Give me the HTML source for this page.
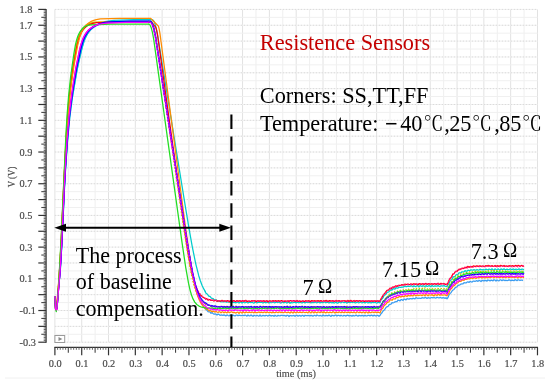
<!DOCTYPE html>
<html><head><meta charset="utf-8"><title>Resistence Sensors</title>
<style>
html,body{margin:0;padding:0;background:#fff;width:550px;height:385px;overflow:hidden}
svg{display:block}
.tl{font-family:"Liberation Serif",serif;font-size:10.3px;fill:#4a4a4a;stroke:#4a4a4a;stroke-width:0.2px}
.al{font-family:"Liberation Serif",serif;font-size:10.3px;fill:#4a4a4a;stroke:#4a4a4a;stroke-width:0.15px}
.big text{font-family:"Liberation Serif","Noto Serif CJK SC",serif;font-size:22.3px}
.cjk{font-family:"Noto Serif CJK SC",serif;font-size:20px}
.mn{font-weight:bold}
.big .om{font-size:20.6px;fill:#000}
</style></head>
<body>
<svg width="550" height="385" viewBox="0 0 550 385">
<rect width="550" height="385" fill="#fff"/>
<line x1="5" y1="378" x2="545" y2="378" stroke="#f0f0f0" stroke-width="1"/>
<g><line x1="54.90" y1="9.40" x2="54.90" y2="342.21" stroke="#e2e2e2" stroke-width="1"/><line x1="68.31" y1="9.40" x2="68.31" y2="342.21" stroke="#efefef" stroke-width="1"/><line x1="81.71" y1="9.40" x2="81.71" y2="342.21" stroke="#e2e2e2" stroke-width="1"/><line x1="95.12" y1="9.40" x2="95.12" y2="342.21" stroke="#efefef" stroke-width="1"/><line x1="108.52" y1="9.40" x2="108.52" y2="342.21" stroke="#e2e2e2" stroke-width="1"/><line x1="121.93" y1="9.40" x2="121.93" y2="342.21" stroke="#efefef" stroke-width="1"/><line x1="135.33" y1="9.40" x2="135.33" y2="342.21" stroke="#e2e2e2" stroke-width="1"/><line x1="148.74" y1="9.40" x2="148.74" y2="342.21" stroke="#efefef" stroke-width="1"/><line x1="162.14" y1="9.40" x2="162.14" y2="342.21" stroke="#e2e2e2" stroke-width="1"/><line x1="175.55" y1="9.40" x2="175.55" y2="342.21" stroke="#efefef" stroke-width="1"/><line x1="188.95" y1="9.40" x2="188.95" y2="342.21" stroke="#e2e2e2" stroke-width="1"/><line x1="202.36" y1="9.40" x2="202.36" y2="342.21" stroke="#efefef" stroke-width="1"/><line x1="215.76" y1="9.40" x2="215.76" y2="342.21" stroke="#e2e2e2" stroke-width="1"/><line x1="229.17" y1="9.40" x2="229.17" y2="342.21" stroke="#efefef" stroke-width="1"/><line x1="242.57" y1="9.40" x2="242.57" y2="342.21" stroke="#e2e2e2" stroke-width="1"/><line x1="255.98" y1="9.40" x2="255.98" y2="342.21" stroke="#efefef" stroke-width="1"/><line x1="269.38" y1="9.40" x2="269.38" y2="342.21" stroke="#e2e2e2" stroke-width="1"/><line x1="282.79" y1="9.40" x2="282.79" y2="342.21" stroke="#efefef" stroke-width="1"/><line x1="296.19" y1="9.40" x2="296.19" y2="342.21" stroke="#e2e2e2" stroke-width="1"/><line x1="309.60" y1="9.40" x2="309.60" y2="342.21" stroke="#efefef" stroke-width="1"/><line x1="323.00" y1="9.40" x2="323.00" y2="342.21" stroke="#e2e2e2" stroke-width="1"/><line x1="336.41" y1="9.40" x2="336.41" y2="342.21" stroke="#efefef" stroke-width="1"/><line x1="349.81" y1="9.40" x2="349.81" y2="342.21" stroke="#e2e2e2" stroke-width="1"/><line x1="363.22" y1="9.40" x2="363.22" y2="342.21" stroke="#efefef" stroke-width="1"/><line x1="376.62" y1="9.40" x2="376.62" y2="342.21" stroke="#e2e2e2" stroke-width="1"/><line x1="390.02" y1="9.40" x2="390.02" y2="342.21" stroke="#efefef" stroke-width="1"/><line x1="403.43" y1="9.40" x2="403.43" y2="342.21" stroke="#e2e2e2" stroke-width="1"/><line x1="416.84" y1="9.40" x2="416.84" y2="342.21" stroke="#efefef" stroke-width="1"/><line x1="430.24" y1="9.40" x2="430.24" y2="342.21" stroke="#e2e2e2" stroke-width="1"/><line x1="443.65" y1="9.40" x2="443.65" y2="342.21" stroke="#efefef" stroke-width="1"/><line x1="457.05" y1="9.40" x2="457.05" y2="342.21" stroke="#e2e2e2" stroke-width="1"/><line x1="470.46" y1="9.40" x2="470.46" y2="342.21" stroke="#efefef" stroke-width="1"/><line x1="483.86" y1="9.40" x2="483.86" y2="342.21" stroke="#e2e2e2" stroke-width="1"/><line x1="497.27" y1="9.40" x2="497.27" y2="342.21" stroke="#efefef" stroke-width="1"/><line x1="510.67" y1="9.40" x2="510.67" y2="342.21" stroke="#e2e2e2" stroke-width="1"/><line x1="524.08" y1="9.40" x2="524.08" y2="342.21" stroke="#efefef" stroke-width="1"/><line x1="537.48" y1="9.40" x2="537.48" y2="342.21" stroke="#e2e2e2" stroke-width="1"/><line x1="54.90" y1="9.40" x2="537.48" y2="9.40" stroke="#f0f0f0" stroke-width="1"/><line x1="54.90" y1="9.40" x2="537.48" y2="9.40" stroke="#d8d8d8" stroke-width="1" stroke-dasharray="1 2"/><line x1="54.90" y1="17.32" x2="537.48" y2="17.32" stroke="#f0f0f0" stroke-width="1"/><line x1="54.90" y1="25.25" x2="537.48" y2="25.25" stroke="#f0f0f0" stroke-width="1"/><line x1="54.90" y1="25.25" x2="537.48" y2="25.25" stroke="#d8d8d8" stroke-width="1" stroke-dasharray="1 2"/><line x1="54.90" y1="33.17" x2="537.48" y2="33.17" stroke="#f0f0f0" stroke-width="1"/><line x1="54.90" y1="41.10" x2="537.48" y2="41.10" stroke="#f0f0f0" stroke-width="1"/><line x1="54.90" y1="41.10" x2="537.48" y2="41.10" stroke="#d8d8d8" stroke-width="1" stroke-dasharray="1 2"/><line x1="54.90" y1="49.02" x2="537.48" y2="49.02" stroke="#f0f0f0" stroke-width="1"/><line x1="54.90" y1="56.94" x2="537.48" y2="56.94" stroke="#f0f0f0" stroke-width="1"/><line x1="54.90" y1="56.94" x2="537.48" y2="56.94" stroke="#d8d8d8" stroke-width="1" stroke-dasharray="1 2"/><line x1="54.90" y1="64.87" x2="537.48" y2="64.87" stroke="#f0f0f0" stroke-width="1"/><line x1="54.90" y1="72.79" x2="537.48" y2="72.79" stroke="#f0f0f0" stroke-width="1"/><line x1="54.90" y1="72.79" x2="537.48" y2="72.79" stroke="#d8d8d8" stroke-width="1" stroke-dasharray="1 2"/><line x1="54.90" y1="80.72" x2="537.48" y2="80.72" stroke="#f0f0f0" stroke-width="1"/><line x1="54.90" y1="88.64" x2="537.48" y2="88.64" stroke="#f0f0f0" stroke-width="1"/><line x1="54.90" y1="88.64" x2="537.48" y2="88.64" stroke="#d8d8d8" stroke-width="1" stroke-dasharray="1 2"/><line x1="54.90" y1="96.56" x2="537.48" y2="96.56" stroke="#f0f0f0" stroke-width="1"/><line x1="54.90" y1="104.49" x2="537.48" y2="104.49" stroke="#f0f0f0" stroke-width="1"/><line x1="54.90" y1="104.49" x2="537.48" y2="104.49" stroke="#d8d8d8" stroke-width="1" stroke-dasharray="1 2"/><line x1="54.90" y1="112.41" x2="537.48" y2="112.41" stroke="#f0f0f0" stroke-width="1"/><line x1="54.90" y1="120.34" x2="537.48" y2="120.34" stroke="#f0f0f0" stroke-width="1"/><line x1="54.90" y1="120.34" x2="537.48" y2="120.34" stroke="#d8d8d8" stroke-width="1" stroke-dasharray="1 2"/><line x1="54.90" y1="128.26" x2="537.48" y2="128.26" stroke="#f0f0f0" stroke-width="1"/><line x1="54.90" y1="136.18" x2="537.48" y2="136.18" stroke="#f0f0f0" stroke-width="1"/><line x1="54.90" y1="136.18" x2="537.48" y2="136.18" stroke="#d8d8d8" stroke-width="1" stroke-dasharray="1 2"/><line x1="54.90" y1="144.11" x2="537.48" y2="144.11" stroke="#f0f0f0" stroke-width="1"/><line x1="54.90" y1="152.03" x2="537.48" y2="152.03" stroke="#f0f0f0" stroke-width="1"/><line x1="54.90" y1="152.03" x2="537.48" y2="152.03" stroke="#d8d8d8" stroke-width="1" stroke-dasharray="1 2"/><line x1="54.90" y1="159.96" x2="537.48" y2="159.96" stroke="#f0f0f0" stroke-width="1"/><line x1="54.90" y1="167.88" x2="537.48" y2="167.88" stroke="#f0f0f0" stroke-width="1"/><line x1="54.90" y1="167.88" x2="537.48" y2="167.88" stroke="#d8d8d8" stroke-width="1" stroke-dasharray="1 2"/><line x1="54.90" y1="175.80" x2="537.48" y2="175.80" stroke="#f0f0f0" stroke-width="1"/><line x1="54.90" y1="183.73" x2="537.48" y2="183.73" stroke="#f0f0f0" stroke-width="1"/><line x1="54.90" y1="183.73" x2="537.48" y2="183.73" stroke="#d8d8d8" stroke-width="1" stroke-dasharray="1 2"/><line x1="54.90" y1="191.65" x2="537.48" y2="191.65" stroke="#f0f0f0" stroke-width="1"/><line x1="54.90" y1="199.58" x2="537.48" y2="199.58" stroke="#f0f0f0" stroke-width="1"/><line x1="54.90" y1="199.58" x2="537.48" y2="199.58" stroke="#d8d8d8" stroke-width="1" stroke-dasharray="1 2"/><line x1="54.90" y1="207.50" x2="537.48" y2="207.50" stroke="#f0f0f0" stroke-width="1"/><line x1="54.90" y1="215.42" x2="537.48" y2="215.42" stroke="#f0f0f0" stroke-width="1"/><line x1="54.90" y1="215.42" x2="537.48" y2="215.42" stroke="#d8d8d8" stroke-width="1" stroke-dasharray="1 2"/><line x1="54.90" y1="223.35" x2="537.48" y2="223.35" stroke="#f0f0f0" stroke-width="1"/><line x1="54.90" y1="231.27" x2="537.48" y2="231.27" stroke="#f0f0f0" stroke-width="1"/><line x1="54.90" y1="231.27" x2="537.48" y2="231.27" stroke="#d8d8d8" stroke-width="1" stroke-dasharray="1 2"/><line x1="54.90" y1="239.20" x2="537.48" y2="239.20" stroke="#f0f0f0" stroke-width="1"/><line x1="54.90" y1="247.12" x2="537.48" y2="247.12" stroke="#f0f0f0" stroke-width="1"/><line x1="54.90" y1="247.12" x2="537.48" y2="247.12" stroke="#d8d8d8" stroke-width="1" stroke-dasharray="1 2"/><line x1="54.90" y1="255.04" x2="537.48" y2="255.04" stroke="#f0f0f0" stroke-width="1"/><line x1="54.90" y1="262.97" x2="537.48" y2="262.97" stroke="#f0f0f0" stroke-width="1"/><line x1="54.90" y1="262.97" x2="537.48" y2="262.97" stroke="#d8d8d8" stroke-width="1" stroke-dasharray="1 2"/><line x1="54.90" y1="270.89" x2="537.48" y2="270.89" stroke="#f0f0f0" stroke-width="1"/><line x1="54.90" y1="278.82" x2="537.48" y2="278.82" stroke="#f0f0f0" stroke-width="1"/><line x1="54.90" y1="278.82" x2="537.48" y2="278.82" stroke="#d8d8d8" stroke-width="1" stroke-dasharray="1 2"/><line x1="54.90" y1="286.74" x2="537.48" y2="286.74" stroke="#f0f0f0" stroke-width="1"/><line x1="54.90" y1="294.66" x2="537.48" y2="294.66" stroke="#f0f0f0" stroke-width="1"/><line x1="54.90" y1="294.66" x2="537.48" y2="294.66" stroke="#d8d8d8" stroke-width="1" stroke-dasharray="1 2"/><line x1="54.90" y1="302.59" x2="537.48" y2="302.59" stroke="#f0f0f0" stroke-width="1"/><line x1="54.90" y1="310.51" x2="537.48" y2="310.51" stroke="#f0f0f0" stroke-width="1"/><line x1="54.90" y1="310.51" x2="537.48" y2="310.51" stroke="#d8d8d8" stroke-width="1" stroke-dasharray="1 2"/><line x1="54.90" y1="318.44" x2="537.48" y2="318.44" stroke="#f0f0f0" stroke-width="1"/><line x1="54.90" y1="326.36" x2="537.48" y2="326.36" stroke="#f0f0f0" stroke-width="1"/><line x1="54.90" y1="326.36" x2="537.48" y2="326.36" stroke="#d8d8d8" stroke-width="1" stroke-dasharray="1 2"/><line x1="54.90" y1="334.28" x2="537.48" y2="334.28" stroke="#f0f0f0" stroke-width="1"/><line x1="54.90" y1="342.21" x2="537.48" y2="342.21" stroke="#f0f0f0" stroke-width="1"/><line x1="54.90" y1="342.21" x2="537.48" y2="342.21" stroke="#d8d8d8" stroke-width="1" stroke-dasharray="1 2"/></g>
<g><line x1="46.1" y1="8.90" x2="46.1" y2="342.71" stroke="#333" stroke-width="1.2"/><line x1="38.30" y1="9.40" x2="46.1" y2="9.40" stroke="#333" stroke-width="1.2"/><line x1="43.70" y1="10.98" x2="46.1" y2="10.98" stroke="#555" stroke-width="0.9"/><line x1="43.70" y1="12.57" x2="46.1" y2="12.57" stroke="#555" stroke-width="0.9"/><line x1="43.70" y1="14.15" x2="46.1" y2="14.15" stroke="#555" stroke-width="0.9"/><line x1="43.70" y1="15.74" x2="46.1" y2="15.74" stroke="#555" stroke-width="0.9"/><line x1="41.30" y1="17.32" x2="46.1" y2="17.32" stroke="#444" stroke-width="1.1"/><line x1="43.70" y1="18.91" x2="46.1" y2="18.91" stroke="#555" stroke-width="0.9"/><line x1="43.70" y1="20.49" x2="46.1" y2="20.49" stroke="#555" stroke-width="0.9"/><line x1="43.70" y1="22.08" x2="46.1" y2="22.08" stroke="#555" stroke-width="0.9"/><line x1="43.70" y1="23.66" x2="46.1" y2="23.66" stroke="#555" stroke-width="0.9"/><line x1="38.30" y1="25.25" x2="46.1" y2="25.25" stroke="#333" stroke-width="1.2"/><line x1="43.70" y1="26.83" x2="46.1" y2="26.83" stroke="#555" stroke-width="0.9"/><line x1="43.70" y1="28.42" x2="46.1" y2="28.42" stroke="#555" stroke-width="0.9"/><line x1="43.70" y1="30.00" x2="46.1" y2="30.00" stroke="#555" stroke-width="0.9"/><line x1="43.70" y1="31.59" x2="46.1" y2="31.59" stroke="#555" stroke-width="0.9"/><line x1="41.30" y1="33.17" x2="46.1" y2="33.17" stroke="#444" stroke-width="1.1"/><line x1="43.70" y1="34.76" x2="46.1" y2="34.76" stroke="#555" stroke-width="0.9"/><line x1="43.70" y1="36.34" x2="46.1" y2="36.34" stroke="#555" stroke-width="0.9"/><line x1="43.70" y1="37.93" x2="46.1" y2="37.93" stroke="#555" stroke-width="0.9"/><line x1="43.70" y1="39.51" x2="46.1" y2="39.51" stroke="#555" stroke-width="0.9"/><line x1="38.30" y1="41.10" x2="46.1" y2="41.10" stroke="#333" stroke-width="1.2"/><line x1="43.70" y1="42.68" x2="46.1" y2="42.68" stroke="#555" stroke-width="0.9"/><line x1="43.70" y1="44.27" x2="46.1" y2="44.27" stroke="#555" stroke-width="0.9"/><line x1="43.70" y1="45.85" x2="46.1" y2="45.85" stroke="#555" stroke-width="0.9"/><line x1="43.70" y1="47.44" x2="46.1" y2="47.44" stroke="#555" stroke-width="0.9"/><line x1="41.30" y1="49.02" x2="46.1" y2="49.02" stroke="#444" stroke-width="1.1"/><line x1="43.70" y1="50.60" x2="46.1" y2="50.60" stroke="#555" stroke-width="0.9"/><line x1="43.70" y1="52.19" x2="46.1" y2="52.19" stroke="#555" stroke-width="0.9"/><line x1="43.70" y1="53.77" x2="46.1" y2="53.77" stroke="#555" stroke-width="0.9"/><line x1="43.70" y1="55.36" x2="46.1" y2="55.36" stroke="#555" stroke-width="0.9"/><line x1="38.30" y1="56.94" x2="46.1" y2="56.94" stroke="#333" stroke-width="1.2"/><line x1="43.70" y1="58.53" x2="46.1" y2="58.53" stroke="#555" stroke-width="0.9"/><line x1="43.70" y1="60.11" x2="46.1" y2="60.11" stroke="#555" stroke-width="0.9"/><line x1="43.70" y1="61.70" x2="46.1" y2="61.70" stroke="#555" stroke-width="0.9"/><line x1="43.70" y1="63.28" x2="46.1" y2="63.28" stroke="#555" stroke-width="0.9"/><line x1="41.30" y1="64.87" x2="46.1" y2="64.87" stroke="#444" stroke-width="1.1"/><line x1="43.70" y1="66.45" x2="46.1" y2="66.45" stroke="#555" stroke-width="0.9"/><line x1="43.70" y1="68.04" x2="46.1" y2="68.04" stroke="#555" stroke-width="0.9"/><line x1="43.70" y1="69.62" x2="46.1" y2="69.62" stroke="#555" stroke-width="0.9"/><line x1="43.70" y1="71.21" x2="46.1" y2="71.21" stroke="#555" stroke-width="0.9"/><line x1="38.30" y1="72.79" x2="46.1" y2="72.79" stroke="#333" stroke-width="1.2"/><line x1="43.70" y1="74.38" x2="46.1" y2="74.38" stroke="#555" stroke-width="0.9"/><line x1="43.70" y1="75.96" x2="46.1" y2="75.96" stroke="#555" stroke-width="0.9"/><line x1="43.70" y1="77.55" x2="46.1" y2="77.55" stroke="#555" stroke-width="0.9"/><line x1="43.70" y1="79.13" x2="46.1" y2="79.13" stroke="#555" stroke-width="0.9"/><line x1="41.30" y1="80.72" x2="46.1" y2="80.72" stroke="#444" stroke-width="1.1"/><line x1="43.70" y1="82.30" x2="46.1" y2="82.30" stroke="#555" stroke-width="0.9"/><line x1="43.70" y1="83.89" x2="46.1" y2="83.89" stroke="#555" stroke-width="0.9"/><line x1="43.70" y1="85.47" x2="46.1" y2="85.47" stroke="#555" stroke-width="0.9"/><line x1="43.70" y1="87.06" x2="46.1" y2="87.06" stroke="#555" stroke-width="0.9"/><line x1="38.30" y1="88.64" x2="46.1" y2="88.64" stroke="#333" stroke-width="1.2"/><line x1="43.70" y1="90.22" x2="46.1" y2="90.22" stroke="#555" stroke-width="0.9"/><line x1="43.70" y1="91.81" x2="46.1" y2="91.81" stroke="#555" stroke-width="0.9"/><line x1="43.70" y1="93.39" x2="46.1" y2="93.39" stroke="#555" stroke-width="0.9"/><line x1="43.70" y1="94.98" x2="46.1" y2="94.98" stroke="#555" stroke-width="0.9"/><line x1="41.30" y1="96.56" x2="46.1" y2="96.56" stroke="#444" stroke-width="1.1"/><line x1="43.70" y1="98.15" x2="46.1" y2="98.15" stroke="#555" stroke-width="0.9"/><line x1="43.70" y1="99.73" x2="46.1" y2="99.73" stroke="#555" stroke-width="0.9"/><line x1="43.70" y1="101.32" x2="46.1" y2="101.32" stroke="#555" stroke-width="0.9"/><line x1="43.70" y1="102.90" x2="46.1" y2="102.90" stroke="#555" stroke-width="0.9"/><line x1="38.30" y1="104.49" x2="46.1" y2="104.49" stroke="#333" stroke-width="1.2"/><line x1="43.70" y1="106.07" x2="46.1" y2="106.07" stroke="#555" stroke-width="0.9"/><line x1="43.70" y1="107.66" x2="46.1" y2="107.66" stroke="#555" stroke-width="0.9"/><line x1="43.70" y1="109.24" x2="46.1" y2="109.24" stroke="#555" stroke-width="0.9"/><line x1="43.70" y1="110.83" x2="46.1" y2="110.83" stroke="#555" stroke-width="0.9"/><line x1="41.30" y1="112.41" x2="46.1" y2="112.41" stroke="#444" stroke-width="1.1"/><line x1="43.70" y1="114.00" x2="46.1" y2="114.00" stroke="#555" stroke-width="0.9"/><line x1="43.70" y1="115.58" x2="46.1" y2="115.58" stroke="#555" stroke-width="0.9"/><line x1="43.70" y1="117.17" x2="46.1" y2="117.17" stroke="#555" stroke-width="0.9"/><line x1="43.70" y1="118.75" x2="46.1" y2="118.75" stroke="#555" stroke-width="0.9"/><line x1="38.30" y1="120.34" x2="46.1" y2="120.34" stroke="#333" stroke-width="1.2"/><line x1="43.70" y1="121.92" x2="46.1" y2="121.92" stroke="#555" stroke-width="0.9"/><line x1="43.70" y1="123.51" x2="46.1" y2="123.51" stroke="#555" stroke-width="0.9"/><line x1="43.70" y1="125.09" x2="46.1" y2="125.09" stroke="#555" stroke-width="0.9"/><line x1="43.70" y1="126.68" x2="46.1" y2="126.68" stroke="#555" stroke-width="0.9"/><line x1="41.30" y1="128.26" x2="46.1" y2="128.26" stroke="#444" stroke-width="1.1"/><line x1="43.70" y1="129.84" x2="46.1" y2="129.84" stroke="#555" stroke-width="0.9"/><line x1="43.70" y1="131.43" x2="46.1" y2="131.43" stroke="#555" stroke-width="0.9"/><line x1="43.70" y1="133.01" x2="46.1" y2="133.01" stroke="#555" stroke-width="0.9"/><line x1="43.70" y1="134.60" x2="46.1" y2="134.60" stroke="#555" stroke-width="0.9"/><line x1="38.30" y1="136.18" x2="46.1" y2="136.18" stroke="#333" stroke-width="1.2"/><line x1="43.70" y1="137.77" x2="46.1" y2="137.77" stroke="#555" stroke-width="0.9"/><line x1="43.70" y1="139.35" x2="46.1" y2="139.35" stroke="#555" stroke-width="0.9"/><line x1="43.70" y1="140.94" x2="46.1" y2="140.94" stroke="#555" stroke-width="0.9"/><line x1="43.70" y1="142.52" x2="46.1" y2="142.52" stroke="#555" stroke-width="0.9"/><line x1="41.30" y1="144.11" x2="46.1" y2="144.11" stroke="#444" stroke-width="1.1"/><line x1="43.70" y1="145.69" x2="46.1" y2="145.69" stroke="#555" stroke-width="0.9"/><line x1="43.70" y1="147.28" x2="46.1" y2="147.28" stroke="#555" stroke-width="0.9"/><line x1="43.70" y1="148.86" x2="46.1" y2="148.86" stroke="#555" stroke-width="0.9"/><line x1="43.70" y1="150.45" x2="46.1" y2="150.45" stroke="#555" stroke-width="0.9"/><line x1="38.30" y1="152.03" x2="46.1" y2="152.03" stroke="#333" stroke-width="1.2"/><line x1="43.70" y1="153.62" x2="46.1" y2="153.62" stroke="#555" stroke-width="0.9"/><line x1="43.70" y1="155.20" x2="46.1" y2="155.20" stroke="#555" stroke-width="0.9"/><line x1="43.70" y1="156.79" x2="46.1" y2="156.79" stroke="#555" stroke-width="0.9"/><line x1="43.70" y1="158.37" x2="46.1" y2="158.37" stroke="#555" stroke-width="0.9"/><line x1="41.30" y1="159.96" x2="46.1" y2="159.96" stroke="#444" stroke-width="1.1"/><line x1="43.70" y1="161.54" x2="46.1" y2="161.54" stroke="#555" stroke-width="0.9"/><line x1="43.70" y1="163.13" x2="46.1" y2="163.13" stroke="#555" stroke-width="0.9"/><line x1="43.70" y1="164.71" x2="46.1" y2="164.71" stroke="#555" stroke-width="0.9"/><line x1="43.70" y1="166.30" x2="46.1" y2="166.30" stroke="#555" stroke-width="0.9"/><line x1="38.30" y1="167.88" x2="46.1" y2="167.88" stroke="#333" stroke-width="1.2"/><line x1="43.70" y1="169.46" x2="46.1" y2="169.46" stroke="#555" stroke-width="0.9"/><line x1="43.70" y1="171.05" x2="46.1" y2="171.05" stroke="#555" stroke-width="0.9"/><line x1="43.70" y1="172.63" x2="46.1" y2="172.63" stroke="#555" stroke-width="0.9"/><line x1="43.70" y1="174.22" x2="46.1" y2="174.22" stroke="#555" stroke-width="0.9"/><line x1="41.30" y1="175.80" x2="46.1" y2="175.80" stroke="#444" stroke-width="1.1"/><line x1="43.70" y1="177.39" x2="46.1" y2="177.39" stroke="#555" stroke-width="0.9"/><line x1="43.70" y1="178.97" x2="46.1" y2="178.97" stroke="#555" stroke-width="0.9"/><line x1="43.70" y1="180.56" x2="46.1" y2="180.56" stroke="#555" stroke-width="0.9"/><line x1="43.70" y1="182.14" x2="46.1" y2="182.14" stroke="#555" stroke-width="0.9"/><line x1="38.30" y1="183.73" x2="46.1" y2="183.73" stroke="#333" stroke-width="1.2"/><line x1="43.70" y1="185.31" x2="46.1" y2="185.31" stroke="#555" stroke-width="0.9"/><line x1="43.70" y1="186.90" x2="46.1" y2="186.90" stroke="#555" stroke-width="0.9"/><line x1="43.70" y1="188.48" x2="46.1" y2="188.48" stroke="#555" stroke-width="0.9"/><line x1="43.70" y1="190.07" x2="46.1" y2="190.07" stroke="#555" stroke-width="0.9"/><line x1="41.30" y1="191.65" x2="46.1" y2="191.65" stroke="#444" stroke-width="1.1"/><line x1="43.70" y1="193.24" x2="46.1" y2="193.24" stroke="#555" stroke-width="0.9"/><line x1="43.70" y1="194.82" x2="46.1" y2="194.82" stroke="#555" stroke-width="0.9"/><line x1="43.70" y1="196.41" x2="46.1" y2="196.41" stroke="#555" stroke-width="0.9"/><line x1="43.70" y1="197.99" x2="46.1" y2="197.99" stroke="#555" stroke-width="0.9"/><line x1="38.30" y1="199.58" x2="46.1" y2="199.58" stroke="#333" stroke-width="1.2"/><line x1="43.70" y1="201.16" x2="46.1" y2="201.16" stroke="#555" stroke-width="0.9"/><line x1="43.70" y1="202.75" x2="46.1" y2="202.75" stroke="#555" stroke-width="0.9"/><line x1="43.70" y1="204.33" x2="46.1" y2="204.33" stroke="#555" stroke-width="0.9"/><line x1="43.70" y1="205.92" x2="46.1" y2="205.92" stroke="#555" stroke-width="0.9"/><line x1="41.30" y1="207.50" x2="46.1" y2="207.50" stroke="#444" stroke-width="1.1"/><line x1="43.70" y1="209.08" x2="46.1" y2="209.08" stroke="#555" stroke-width="0.9"/><line x1="43.70" y1="210.67" x2="46.1" y2="210.67" stroke="#555" stroke-width="0.9"/><line x1="43.70" y1="212.25" x2="46.1" y2="212.25" stroke="#555" stroke-width="0.9"/><line x1="43.70" y1="213.84" x2="46.1" y2="213.84" stroke="#555" stroke-width="0.9"/><line x1="38.30" y1="215.42" x2="46.1" y2="215.42" stroke="#333" stroke-width="1.2"/><line x1="43.70" y1="217.01" x2="46.1" y2="217.01" stroke="#555" stroke-width="0.9"/><line x1="43.70" y1="218.59" x2="46.1" y2="218.59" stroke="#555" stroke-width="0.9"/><line x1="43.70" y1="220.18" x2="46.1" y2="220.18" stroke="#555" stroke-width="0.9"/><line x1="43.70" y1="221.76" x2="46.1" y2="221.76" stroke="#555" stroke-width="0.9"/><line x1="41.30" y1="223.35" x2="46.1" y2="223.35" stroke="#444" stroke-width="1.1"/><line x1="43.70" y1="224.93" x2="46.1" y2="224.93" stroke="#555" stroke-width="0.9"/><line x1="43.70" y1="226.52" x2="46.1" y2="226.52" stroke="#555" stroke-width="0.9"/><line x1="43.70" y1="228.10" x2="46.1" y2="228.10" stroke="#555" stroke-width="0.9"/><line x1="43.70" y1="229.69" x2="46.1" y2="229.69" stroke="#555" stroke-width="0.9"/><line x1="38.30" y1="231.27" x2="46.1" y2="231.27" stroke="#333" stroke-width="1.2"/><line x1="43.70" y1="232.86" x2="46.1" y2="232.86" stroke="#555" stroke-width="0.9"/><line x1="43.70" y1="234.44" x2="46.1" y2="234.44" stroke="#555" stroke-width="0.9"/><line x1="43.70" y1="236.03" x2="46.1" y2="236.03" stroke="#555" stroke-width="0.9"/><line x1="43.70" y1="237.61" x2="46.1" y2="237.61" stroke="#555" stroke-width="0.9"/><line x1="41.30" y1="239.20" x2="46.1" y2="239.20" stroke="#444" stroke-width="1.1"/><line x1="43.70" y1="240.78" x2="46.1" y2="240.78" stroke="#555" stroke-width="0.9"/><line x1="43.70" y1="242.37" x2="46.1" y2="242.37" stroke="#555" stroke-width="0.9"/><line x1="43.70" y1="243.95" x2="46.1" y2="243.95" stroke="#555" stroke-width="0.9"/><line x1="43.70" y1="245.54" x2="46.1" y2="245.54" stroke="#555" stroke-width="0.9"/><line x1="38.30" y1="247.12" x2="46.1" y2="247.12" stroke="#333" stroke-width="1.2"/><line x1="43.70" y1="248.70" x2="46.1" y2="248.70" stroke="#555" stroke-width="0.9"/><line x1="43.70" y1="250.29" x2="46.1" y2="250.29" stroke="#555" stroke-width="0.9"/><line x1="43.70" y1="251.87" x2="46.1" y2="251.87" stroke="#555" stroke-width="0.9"/><line x1="43.70" y1="253.46" x2="46.1" y2="253.46" stroke="#555" stroke-width="0.9"/><line x1="41.30" y1="255.04" x2="46.1" y2="255.04" stroke="#444" stroke-width="1.1"/><line x1="43.70" y1="256.63" x2="46.1" y2="256.63" stroke="#555" stroke-width="0.9"/><line x1="43.70" y1="258.21" x2="46.1" y2="258.21" stroke="#555" stroke-width="0.9"/><line x1="43.70" y1="259.80" x2="46.1" y2="259.80" stroke="#555" stroke-width="0.9"/><line x1="43.70" y1="261.38" x2="46.1" y2="261.38" stroke="#555" stroke-width="0.9"/><line x1="38.30" y1="262.97" x2="46.1" y2="262.97" stroke="#333" stroke-width="1.2"/><line x1="43.70" y1="264.55" x2="46.1" y2="264.55" stroke="#555" stroke-width="0.9"/><line x1="43.70" y1="266.14" x2="46.1" y2="266.14" stroke="#555" stroke-width="0.9"/><line x1="43.70" y1="267.72" x2="46.1" y2="267.72" stroke="#555" stroke-width="0.9"/><line x1="43.70" y1="269.31" x2="46.1" y2="269.31" stroke="#555" stroke-width="0.9"/><line x1="41.30" y1="270.89" x2="46.1" y2="270.89" stroke="#444" stroke-width="1.1"/><line x1="43.70" y1="272.48" x2="46.1" y2="272.48" stroke="#555" stroke-width="0.9"/><line x1="43.70" y1="274.06" x2="46.1" y2="274.06" stroke="#555" stroke-width="0.9"/><line x1="43.70" y1="275.65" x2="46.1" y2="275.65" stroke="#555" stroke-width="0.9"/><line x1="43.70" y1="277.23" x2="46.1" y2="277.23" stroke="#555" stroke-width="0.9"/><line x1="38.30" y1="278.82" x2="46.1" y2="278.82" stroke="#333" stroke-width="1.2"/><line x1="43.70" y1="280.40" x2="46.1" y2="280.40" stroke="#555" stroke-width="0.9"/><line x1="43.70" y1="281.99" x2="46.1" y2="281.99" stroke="#555" stroke-width="0.9"/><line x1="43.70" y1="283.57" x2="46.1" y2="283.57" stroke="#555" stroke-width="0.9"/><line x1="43.70" y1="285.16" x2="46.1" y2="285.16" stroke="#555" stroke-width="0.9"/><line x1="41.30" y1="286.74" x2="46.1" y2="286.74" stroke="#444" stroke-width="1.1"/><line x1="43.70" y1="288.32" x2="46.1" y2="288.32" stroke="#555" stroke-width="0.9"/><line x1="43.70" y1="289.91" x2="46.1" y2="289.91" stroke="#555" stroke-width="0.9"/><line x1="43.70" y1="291.49" x2="46.1" y2="291.49" stroke="#555" stroke-width="0.9"/><line x1="43.70" y1="293.08" x2="46.1" y2="293.08" stroke="#555" stroke-width="0.9"/><line x1="38.30" y1="294.66" x2="46.1" y2="294.66" stroke="#333" stroke-width="1.2"/><line x1="43.70" y1="296.25" x2="46.1" y2="296.25" stroke="#555" stroke-width="0.9"/><line x1="43.70" y1="297.83" x2="46.1" y2="297.83" stroke="#555" stroke-width="0.9"/><line x1="43.70" y1="299.42" x2="46.1" y2="299.42" stroke="#555" stroke-width="0.9"/><line x1="43.70" y1="301.00" x2="46.1" y2="301.00" stroke="#555" stroke-width="0.9"/><line x1="41.30" y1="302.59" x2="46.1" y2="302.59" stroke="#444" stroke-width="1.1"/><line x1="43.70" y1="304.17" x2="46.1" y2="304.17" stroke="#555" stroke-width="0.9"/><line x1="43.70" y1="305.76" x2="46.1" y2="305.76" stroke="#555" stroke-width="0.9"/><line x1="43.70" y1="307.34" x2="46.1" y2="307.34" stroke="#555" stroke-width="0.9"/><line x1="43.70" y1="308.93" x2="46.1" y2="308.93" stroke="#555" stroke-width="0.9"/><line x1="38.30" y1="310.51" x2="46.1" y2="310.51" stroke="#333" stroke-width="1.2"/><line x1="43.70" y1="312.10" x2="46.1" y2="312.10" stroke="#555" stroke-width="0.9"/><line x1="43.70" y1="313.68" x2="46.1" y2="313.68" stroke="#555" stroke-width="0.9"/><line x1="43.70" y1="315.27" x2="46.1" y2="315.27" stroke="#555" stroke-width="0.9"/><line x1="43.70" y1="316.85" x2="46.1" y2="316.85" stroke="#555" stroke-width="0.9"/><line x1="41.30" y1="318.44" x2="46.1" y2="318.44" stroke="#444" stroke-width="1.1"/><line x1="43.70" y1="320.02" x2="46.1" y2="320.02" stroke="#555" stroke-width="0.9"/><line x1="43.70" y1="321.61" x2="46.1" y2="321.61" stroke="#555" stroke-width="0.9"/><line x1="43.70" y1="323.19" x2="46.1" y2="323.19" stroke="#555" stroke-width="0.9"/><line x1="43.70" y1="324.78" x2="46.1" y2="324.78" stroke="#555" stroke-width="0.9"/><line x1="38.30" y1="326.36" x2="46.1" y2="326.36" stroke="#333" stroke-width="1.2"/><line x1="43.70" y1="327.94" x2="46.1" y2="327.94" stroke="#555" stroke-width="0.9"/><line x1="43.70" y1="329.53" x2="46.1" y2="329.53" stroke="#555" stroke-width="0.9"/><line x1="43.70" y1="331.11" x2="46.1" y2="331.11" stroke="#555" stroke-width="0.9"/><line x1="43.70" y1="332.70" x2="46.1" y2="332.70" stroke="#555" stroke-width="0.9"/><line x1="41.30" y1="334.28" x2="46.1" y2="334.28" stroke="#444" stroke-width="1.1"/><line x1="43.70" y1="335.87" x2="46.1" y2="335.87" stroke="#555" stroke-width="0.9"/><line x1="43.70" y1="337.45" x2="46.1" y2="337.45" stroke="#555" stroke-width="0.9"/><line x1="43.70" y1="339.04" x2="46.1" y2="339.04" stroke="#555" stroke-width="0.9"/><line x1="43.70" y1="340.62" x2="46.1" y2="340.62" stroke="#555" stroke-width="0.9"/><line x1="38.30" y1="342.21" x2="46.1" y2="342.21" stroke="#333" stroke-width="1.2"/><line x1="54.40" y1="347.3" x2="537.98" y2="347.3" stroke="#333" stroke-width="1.3"/><line x1="54.90" y1="347.3" x2="54.90" y2="355.30" stroke="#333" stroke-width="1.2"/><line x1="57.58" y1="347.3" x2="57.58" y2="349.80" stroke="#555" stroke-width="0.9"/><line x1="60.26" y1="347.3" x2="60.26" y2="349.80" stroke="#555" stroke-width="0.9"/><line x1="62.94" y1="347.3" x2="62.94" y2="349.80" stroke="#555" stroke-width="0.9"/><line x1="65.62" y1="347.3" x2="65.62" y2="349.80" stroke="#555" stroke-width="0.9"/><line x1="68.31" y1="347.3" x2="68.31" y2="352.70" stroke="#444" stroke-width="1.1"/><line x1="70.99" y1="347.3" x2="70.99" y2="349.80" stroke="#555" stroke-width="0.9"/><line x1="73.67" y1="347.3" x2="73.67" y2="349.80" stroke="#555" stroke-width="0.9"/><line x1="76.35" y1="347.3" x2="76.35" y2="349.80" stroke="#555" stroke-width="0.9"/><line x1="79.03" y1="347.3" x2="79.03" y2="349.80" stroke="#555" stroke-width="0.9"/><line x1="81.71" y1="347.3" x2="81.71" y2="355.30" stroke="#333" stroke-width="1.2"/><line x1="84.39" y1="347.3" x2="84.39" y2="349.80" stroke="#555" stroke-width="0.9"/><line x1="87.07" y1="347.3" x2="87.07" y2="349.80" stroke="#555" stroke-width="0.9"/><line x1="89.75" y1="347.3" x2="89.75" y2="349.80" stroke="#555" stroke-width="0.9"/><line x1="92.43" y1="347.3" x2="92.43" y2="349.80" stroke="#555" stroke-width="0.9"/><line x1="95.12" y1="347.3" x2="95.12" y2="352.70" stroke="#444" stroke-width="1.1"/><line x1="97.80" y1="347.3" x2="97.80" y2="349.80" stroke="#555" stroke-width="0.9"/><line x1="100.48" y1="347.3" x2="100.48" y2="349.80" stroke="#555" stroke-width="0.9"/><line x1="103.16" y1="347.3" x2="103.16" y2="349.80" stroke="#555" stroke-width="0.9"/><line x1="105.84" y1="347.3" x2="105.84" y2="349.80" stroke="#555" stroke-width="0.9"/><line x1="108.52" y1="347.3" x2="108.52" y2="355.30" stroke="#333" stroke-width="1.2"/><line x1="111.20" y1="347.3" x2="111.20" y2="349.80" stroke="#555" stroke-width="0.9"/><line x1="113.88" y1="347.3" x2="113.88" y2="349.80" stroke="#555" stroke-width="0.9"/><line x1="116.56" y1="347.3" x2="116.56" y2="349.80" stroke="#555" stroke-width="0.9"/><line x1="119.24" y1="347.3" x2="119.24" y2="349.80" stroke="#555" stroke-width="0.9"/><line x1="121.93" y1="347.3" x2="121.93" y2="352.70" stroke="#444" stroke-width="1.1"/><line x1="124.61" y1="347.3" x2="124.61" y2="349.80" stroke="#555" stroke-width="0.9"/><line x1="127.29" y1="347.3" x2="127.29" y2="349.80" stroke="#555" stroke-width="0.9"/><line x1="129.97" y1="347.3" x2="129.97" y2="349.80" stroke="#555" stroke-width="0.9"/><line x1="132.65" y1="347.3" x2="132.65" y2="349.80" stroke="#555" stroke-width="0.9"/><line x1="135.33" y1="347.3" x2="135.33" y2="355.30" stroke="#333" stroke-width="1.2"/><line x1="138.01" y1="347.3" x2="138.01" y2="349.80" stroke="#555" stroke-width="0.9"/><line x1="140.69" y1="347.3" x2="140.69" y2="349.80" stroke="#555" stroke-width="0.9"/><line x1="143.37" y1="347.3" x2="143.37" y2="349.80" stroke="#555" stroke-width="0.9"/><line x1="146.05" y1="347.3" x2="146.05" y2="349.80" stroke="#555" stroke-width="0.9"/><line x1="148.74" y1="347.3" x2="148.74" y2="352.70" stroke="#444" stroke-width="1.1"/><line x1="151.42" y1="347.3" x2="151.42" y2="349.80" stroke="#555" stroke-width="0.9"/><line x1="154.10" y1="347.3" x2="154.10" y2="349.80" stroke="#555" stroke-width="0.9"/><line x1="156.78" y1="347.3" x2="156.78" y2="349.80" stroke="#555" stroke-width="0.9"/><line x1="159.46" y1="347.3" x2="159.46" y2="349.80" stroke="#555" stroke-width="0.9"/><line x1="162.14" y1="347.3" x2="162.14" y2="355.30" stroke="#333" stroke-width="1.2"/><line x1="164.82" y1="347.3" x2="164.82" y2="349.80" stroke="#555" stroke-width="0.9"/><line x1="167.50" y1="347.3" x2="167.50" y2="349.80" stroke="#555" stroke-width="0.9"/><line x1="170.18" y1="347.3" x2="170.18" y2="349.80" stroke="#555" stroke-width="0.9"/><line x1="172.86" y1="347.3" x2="172.86" y2="349.80" stroke="#555" stroke-width="0.9"/><line x1="175.55" y1="347.3" x2="175.55" y2="352.70" stroke="#444" stroke-width="1.1"/><line x1="178.23" y1="347.3" x2="178.23" y2="349.80" stroke="#555" stroke-width="0.9"/><line x1="180.91" y1="347.3" x2="180.91" y2="349.80" stroke="#555" stroke-width="0.9"/><line x1="183.59" y1="347.3" x2="183.59" y2="349.80" stroke="#555" stroke-width="0.9"/><line x1="186.27" y1="347.3" x2="186.27" y2="349.80" stroke="#555" stroke-width="0.9"/><line x1="188.95" y1="347.3" x2="188.95" y2="355.30" stroke="#333" stroke-width="1.2"/><line x1="191.63" y1="347.3" x2="191.63" y2="349.80" stroke="#555" stroke-width="0.9"/><line x1="194.31" y1="347.3" x2="194.31" y2="349.80" stroke="#555" stroke-width="0.9"/><line x1="196.99" y1="347.3" x2="196.99" y2="349.80" stroke="#555" stroke-width="0.9"/><line x1="199.67" y1="347.3" x2="199.67" y2="349.80" stroke="#555" stroke-width="0.9"/><line x1="202.36" y1="347.3" x2="202.36" y2="352.70" stroke="#444" stroke-width="1.1"/><line x1="205.04" y1="347.3" x2="205.04" y2="349.80" stroke="#555" stroke-width="0.9"/><line x1="207.72" y1="347.3" x2="207.72" y2="349.80" stroke="#555" stroke-width="0.9"/><line x1="210.40" y1="347.3" x2="210.40" y2="349.80" stroke="#555" stroke-width="0.9"/><line x1="213.08" y1="347.3" x2="213.08" y2="349.80" stroke="#555" stroke-width="0.9"/><line x1="215.76" y1="347.3" x2="215.76" y2="355.30" stroke="#333" stroke-width="1.2"/><line x1="218.44" y1="347.3" x2="218.44" y2="349.80" stroke="#555" stroke-width="0.9"/><line x1="221.12" y1="347.3" x2="221.12" y2="349.80" stroke="#555" stroke-width="0.9"/><line x1="223.80" y1="347.3" x2="223.80" y2="349.80" stroke="#555" stroke-width="0.9"/><line x1="226.48" y1="347.3" x2="226.48" y2="349.80" stroke="#555" stroke-width="0.9"/><line x1="229.17" y1="347.3" x2="229.17" y2="352.70" stroke="#444" stroke-width="1.1"/><line x1="231.85" y1="347.3" x2="231.85" y2="349.80" stroke="#555" stroke-width="0.9"/><line x1="234.53" y1="347.3" x2="234.53" y2="349.80" stroke="#555" stroke-width="0.9"/><line x1="237.21" y1="347.3" x2="237.21" y2="349.80" stroke="#555" stroke-width="0.9"/><line x1="239.89" y1="347.3" x2="239.89" y2="349.80" stroke="#555" stroke-width="0.9"/><line x1="242.57" y1="347.3" x2="242.57" y2="355.30" stroke="#333" stroke-width="1.2"/><line x1="245.25" y1="347.3" x2="245.25" y2="349.80" stroke="#555" stroke-width="0.9"/><line x1="247.93" y1="347.3" x2="247.93" y2="349.80" stroke="#555" stroke-width="0.9"/><line x1="250.61" y1="347.3" x2="250.61" y2="349.80" stroke="#555" stroke-width="0.9"/><line x1="253.29" y1="347.3" x2="253.29" y2="349.80" stroke="#555" stroke-width="0.9"/><line x1="255.98" y1="347.3" x2="255.98" y2="352.70" stroke="#444" stroke-width="1.1"/><line x1="258.66" y1="347.3" x2="258.66" y2="349.80" stroke="#555" stroke-width="0.9"/><line x1="261.34" y1="347.3" x2="261.34" y2="349.80" stroke="#555" stroke-width="0.9"/><line x1="264.02" y1="347.3" x2="264.02" y2="349.80" stroke="#555" stroke-width="0.9"/><line x1="266.70" y1="347.3" x2="266.70" y2="349.80" stroke="#555" stroke-width="0.9"/><line x1="269.38" y1="347.3" x2="269.38" y2="355.30" stroke="#333" stroke-width="1.2"/><line x1="272.06" y1="347.3" x2="272.06" y2="349.80" stroke="#555" stroke-width="0.9"/><line x1="274.74" y1="347.3" x2="274.74" y2="349.80" stroke="#555" stroke-width="0.9"/><line x1="277.42" y1="347.3" x2="277.42" y2="349.80" stroke="#555" stroke-width="0.9"/><line x1="280.10" y1="347.3" x2="280.10" y2="349.80" stroke="#555" stroke-width="0.9"/><line x1="282.79" y1="347.3" x2="282.79" y2="352.70" stroke="#444" stroke-width="1.1"/><line x1="285.47" y1="347.3" x2="285.47" y2="349.80" stroke="#555" stroke-width="0.9"/><line x1="288.15" y1="347.3" x2="288.15" y2="349.80" stroke="#555" stroke-width="0.9"/><line x1="290.83" y1="347.3" x2="290.83" y2="349.80" stroke="#555" stroke-width="0.9"/><line x1="293.51" y1="347.3" x2="293.51" y2="349.80" stroke="#555" stroke-width="0.9"/><line x1="296.19" y1="347.3" x2="296.19" y2="355.30" stroke="#333" stroke-width="1.2"/><line x1="298.87" y1="347.3" x2="298.87" y2="349.80" stroke="#555" stroke-width="0.9"/><line x1="301.55" y1="347.3" x2="301.55" y2="349.80" stroke="#555" stroke-width="0.9"/><line x1="304.23" y1="347.3" x2="304.23" y2="349.80" stroke="#555" stroke-width="0.9"/><line x1="306.91" y1="347.3" x2="306.91" y2="349.80" stroke="#555" stroke-width="0.9"/><line x1="309.60" y1="347.3" x2="309.60" y2="352.70" stroke="#444" stroke-width="1.1"/><line x1="312.28" y1="347.3" x2="312.28" y2="349.80" stroke="#555" stroke-width="0.9"/><line x1="314.96" y1="347.3" x2="314.96" y2="349.80" stroke="#555" stroke-width="0.9"/><line x1="317.64" y1="347.3" x2="317.64" y2="349.80" stroke="#555" stroke-width="0.9"/><line x1="320.32" y1="347.3" x2="320.32" y2="349.80" stroke="#555" stroke-width="0.9"/><line x1="323.00" y1="347.3" x2="323.00" y2="355.30" stroke="#333" stroke-width="1.2"/><line x1="325.68" y1="347.3" x2="325.68" y2="349.80" stroke="#555" stroke-width="0.9"/><line x1="328.36" y1="347.3" x2="328.36" y2="349.80" stroke="#555" stroke-width="0.9"/><line x1="331.04" y1="347.3" x2="331.04" y2="349.80" stroke="#555" stroke-width="0.9"/><line x1="333.72" y1="347.3" x2="333.72" y2="349.80" stroke="#555" stroke-width="0.9"/><line x1="336.41" y1="347.3" x2="336.41" y2="352.70" stroke="#444" stroke-width="1.1"/><line x1="339.09" y1="347.3" x2="339.09" y2="349.80" stroke="#555" stroke-width="0.9"/><line x1="341.77" y1="347.3" x2="341.77" y2="349.80" stroke="#555" stroke-width="0.9"/><line x1="344.45" y1="347.3" x2="344.45" y2="349.80" stroke="#555" stroke-width="0.9"/><line x1="347.13" y1="347.3" x2="347.13" y2="349.80" stroke="#555" stroke-width="0.9"/><line x1="349.81" y1="347.3" x2="349.81" y2="355.30" stroke="#333" stroke-width="1.2"/><line x1="352.49" y1="347.3" x2="352.49" y2="349.80" stroke="#555" stroke-width="0.9"/><line x1="355.17" y1="347.3" x2="355.17" y2="349.80" stroke="#555" stroke-width="0.9"/><line x1="357.85" y1="347.3" x2="357.85" y2="349.80" stroke="#555" stroke-width="0.9"/><line x1="360.53" y1="347.3" x2="360.53" y2="349.80" stroke="#555" stroke-width="0.9"/><line x1="363.22" y1="347.3" x2="363.22" y2="352.70" stroke="#444" stroke-width="1.1"/><line x1="365.90" y1="347.3" x2="365.90" y2="349.80" stroke="#555" stroke-width="0.9"/><line x1="368.58" y1="347.3" x2="368.58" y2="349.80" stroke="#555" stroke-width="0.9"/><line x1="371.26" y1="347.3" x2="371.26" y2="349.80" stroke="#555" stroke-width="0.9"/><line x1="373.94" y1="347.3" x2="373.94" y2="349.80" stroke="#555" stroke-width="0.9"/><line x1="376.62" y1="347.3" x2="376.62" y2="355.30" stroke="#333" stroke-width="1.2"/><line x1="379.30" y1="347.3" x2="379.30" y2="349.80" stroke="#555" stroke-width="0.9"/><line x1="381.98" y1="347.3" x2="381.98" y2="349.80" stroke="#555" stroke-width="0.9"/><line x1="384.66" y1="347.3" x2="384.66" y2="349.80" stroke="#555" stroke-width="0.9"/><line x1="387.34" y1="347.3" x2="387.34" y2="349.80" stroke="#555" stroke-width="0.9"/><line x1="390.02" y1="347.3" x2="390.02" y2="352.70" stroke="#444" stroke-width="1.1"/><line x1="392.71" y1="347.3" x2="392.71" y2="349.80" stroke="#555" stroke-width="0.9"/><line x1="395.39" y1="347.3" x2="395.39" y2="349.80" stroke="#555" stroke-width="0.9"/><line x1="398.07" y1="347.3" x2="398.07" y2="349.80" stroke="#555" stroke-width="0.9"/><line x1="400.75" y1="347.3" x2="400.75" y2="349.80" stroke="#555" stroke-width="0.9"/><line x1="403.43" y1="347.3" x2="403.43" y2="355.30" stroke="#333" stroke-width="1.2"/><line x1="406.11" y1="347.3" x2="406.11" y2="349.80" stroke="#555" stroke-width="0.9"/><line x1="408.79" y1="347.3" x2="408.79" y2="349.80" stroke="#555" stroke-width="0.9"/><line x1="411.47" y1="347.3" x2="411.47" y2="349.80" stroke="#555" stroke-width="0.9"/><line x1="414.15" y1="347.3" x2="414.15" y2="349.80" stroke="#555" stroke-width="0.9"/><line x1="416.84" y1="347.3" x2="416.84" y2="352.70" stroke="#444" stroke-width="1.1"/><line x1="419.52" y1="347.3" x2="419.52" y2="349.80" stroke="#555" stroke-width="0.9"/><line x1="422.20" y1="347.3" x2="422.20" y2="349.80" stroke="#555" stroke-width="0.9"/><line x1="424.88" y1="347.3" x2="424.88" y2="349.80" stroke="#555" stroke-width="0.9"/><line x1="427.56" y1="347.3" x2="427.56" y2="349.80" stroke="#555" stroke-width="0.9"/><line x1="430.24" y1="347.3" x2="430.24" y2="355.30" stroke="#333" stroke-width="1.2"/><line x1="432.92" y1="347.3" x2="432.92" y2="349.80" stroke="#555" stroke-width="0.9"/><line x1="435.60" y1="347.3" x2="435.60" y2="349.80" stroke="#555" stroke-width="0.9"/><line x1="438.28" y1="347.3" x2="438.28" y2="349.80" stroke="#555" stroke-width="0.9"/><line x1="440.96" y1="347.3" x2="440.96" y2="349.80" stroke="#555" stroke-width="0.9"/><line x1="443.64" y1="347.3" x2="443.64" y2="352.70" stroke="#444" stroke-width="1.1"/><line x1="446.33" y1="347.3" x2="446.33" y2="349.80" stroke="#555" stroke-width="0.9"/><line x1="449.01" y1="347.3" x2="449.01" y2="349.80" stroke="#555" stroke-width="0.9"/><line x1="451.69" y1="347.3" x2="451.69" y2="349.80" stroke="#555" stroke-width="0.9"/><line x1="454.37" y1="347.3" x2="454.37" y2="349.80" stroke="#555" stroke-width="0.9"/><line x1="457.05" y1="347.3" x2="457.05" y2="355.30" stroke="#333" stroke-width="1.2"/><line x1="459.73" y1="347.3" x2="459.73" y2="349.80" stroke="#555" stroke-width="0.9"/><line x1="462.41" y1="347.3" x2="462.41" y2="349.80" stroke="#555" stroke-width="0.9"/><line x1="465.09" y1="347.3" x2="465.09" y2="349.80" stroke="#555" stroke-width="0.9"/><line x1="467.77" y1="347.3" x2="467.77" y2="349.80" stroke="#555" stroke-width="0.9"/><line x1="470.46" y1="347.3" x2="470.46" y2="352.70" stroke="#444" stroke-width="1.1"/><line x1="473.14" y1="347.3" x2="473.14" y2="349.80" stroke="#555" stroke-width="0.9"/><line x1="475.82" y1="347.3" x2="475.82" y2="349.80" stroke="#555" stroke-width="0.9"/><line x1="478.50" y1="347.3" x2="478.50" y2="349.80" stroke="#555" stroke-width="0.9"/><line x1="481.18" y1="347.3" x2="481.18" y2="349.80" stroke="#555" stroke-width="0.9"/><line x1="483.86" y1="347.3" x2="483.86" y2="355.30" stroke="#333" stroke-width="1.2"/><line x1="486.54" y1="347.3" x2="486.54" y2="349.80" stroke="#555" stroke-width="0.9"/><line x1="489.22" y1="347.3" x2="489.22" y2="349.80" stroke="#555" stroke-width="0.9"/><line x1="491.90" y1="347.3" x2="491.90" y2="349.80" stroke="#555" stroke-width="0.9"/><line x1="494.58" y1="347.3" x2="494.58" y2="349.80" stroke="#555" stroke-width="0.9"/><line x1="497.27" y1="347.3" x2="497.27" y2="352.70" stroke="#444" stroke-width="1.1"/><line x1="499.95" y1="347.3" x2="499.95" y2="349.80" stroke="#555" stroke-width="0.9"/><line x1="502.63" y1="347.3" x2="502.63" y2="349.80" stroke="#555" stroke-width="0.9"/><line x1="505.31" y1="347.3" x2="505.31" y2="349.80" stroke="#555" stroke-width="0.9"/><line x1="507.99" y1="347.3" x2="507.99" y2="349.80" stroke="#555" stroke-width="0.9"/><line x1="510.67" y1="347.3" x2="510.67" y2="355.30" stroke="#333" stroke-width="1.2"/><line x1="513.35" y1="347.3" x2="513.35" y2="349.80" stroke="#555" stroke-width="0.9"/><line x1="516.03" y1="347.3" x2="516.03" y2="349.80" stroke="#555" stroke-width="0.9"/><line x1="518.71" y1="347.3" x2="518.71" y2="349.80" stroke="#555" stroke-width="0.9"/><line x1="521.39" y1="347.3" x2="521.39" y2="349.80" stroke="#555" stroke-width="0.9"/><line x1="524.08" y1="347.3" x2="524.08" y2="352.70" stroke="#444" stroke-width="1.1"/><line x1="526.76" y1="347.3" x2="526.76" y2="349.80" stroke="#555" stroke-width="0.9"/><line x1="529.44" y1="347.3" x2="529.44" y2="349.80" stroke="#555" stroke-width="0.9"/><line x1="532.12" y1="347.3" x2="532.12" y2="349.80" stroke="#555" stroke-width="0.9"/><line x1="534.80" y1="347.3" x2="534.80" y2="349.80" stroke="#555" stroke-width="0.9"/><line x1="537.48" y1="347.3" x2="537.48" y2="355.30" stroke="#333" stroke-width="1.2"/></g>
<g fill="#4a4a4a"><text x="32.3" y="12.90" text-anchor="end" class="tl">1.8</text><text x="32.3" y="28.75" text-anchor="end" class="tl">1.7</text><text x="32.3" y="60.44" text-anchor="end" class="tl">1.5</text><text x="32.3" y="92.14" text-anchor="end" class="tl">1.3</text><text x="32.3" y="123.84" text-anchor="end" class="tl">1.1</text><text x="32.3" y="155.53" text-anchor="end" class="tl">0.9</text><text x="32.3" y="187.23" text-anchor="end" class="tl">0.7</text><text x="32.3" y="218.92" text-anchor="end" class="tl">0.5</text><text x="32.3" y="250.62" text-anchor="end" class="tl">0.3</text><text x="32.3" y="282.32" text-anchor="end" class="tl">0.1</text><text x="19.6" y="314.01" class="tl">-0.1</text><text x="19.6" y="345.71" class="tl">-0.3</text><text x="55.20" y="366.6" text-anchor="middle" class="tl">0.0</text><text x="82.01" y="366.6" text-anchor="middle" class="tl">0.1</text><text x="108.82" y="366.6" text-anchor="middle" class="tl">0.2</text><text x="135.63" y="366.6" text-anchor="middle" class="tl">0.3</text><text x="162.44" y="366.6" text-anchor="middle" class="tl">0.4</text><text x="189.25" y="366.6" text-anchor="middle" class="tl">0.5</text><text x="216.06" y="366.6" text-anchor="middle" class="tl">0.6</text><text x="242.87" y="366.6" text-anchor="middle" class="tl">0.7</text><text x="269.68" y="366.6" text-anchor="middle" class="tl">0.8</text><text x="296.49" y="366.6" text-anchor="middle" class="tl">0.9</text><text x="323.30" y="366.6" text-anchor="middle" class="tl">1.0</text><text x="350.11" y="366.6" text-anchor="middle" class="tl">1.1</text><text x="376.92" y="366.6" text-anchor="middle" class="tl">1.2</text><text x="403.73" y="366.6" text-anchor="middle" class="tl">1.3</text><text x="430.54" y="366.6" text-anchor="middle" class="tl">1.4</text><text x="457.35" y="366.6" text-anchor="middle" class="tl">1.5</text><text x="484.16" y="366.6" text-anchor="middle" class="tl">1.6</text><text x="510.97" y="366.6" text-anchor="middle" class="tl">1.7</text><text x="537.78" y="366.6" text-anchor="middle" class="tl">1.8</text></g>
<text x="296" y="377" text-anchor="middle" class="al">time (ms)</text>
<text transform="translate(15.4 177.0) rotate(-90) scale(0.86 1)" text-anchor="middle" class="al">V (V)</text>
<rect x="54.9" y="335.5" width="9.8" height="7" fill="#fff" stroke="#9a9a9a" stroke-width="1"/>
<polygon points="58.5,337.1 62.4,339.1 58.5,341.1" fill="#8a8a8a"/>
<g fill="none" stroke-width="1.25" stroke-linejoin="round" stroke-linecap="butt"><path d="M54.90 296.00 L55.60 309.00 L57.08 308.00 L58.51 289.00 L60.34 270.00 L61.85 244.67 L64.47 187.67 L65.55 168.67 L67.31 143.33 L69.61 118.00 L72.06 99.00 L76.26 73.67 L78.81 61.00 L80.85 52.19 L82.22 46.76 L83.68 42.02 L84.99 38.63 L86.70 35.24 L88.49 32.53 L90.76 29.81 L93.20 27.78 L95.27 26.42 L97.80 25.07 L101.38 23.71 L106.79 22.36 L112.23 21.68 L132.40 21.00 L148.90 21.00" stroke="#3a9cf0"/><path d="M54.90 296.00 L55.60 309.00 L56.30 307.20 L57.13 306.70 L58.53 287.70 L60.41 268.70 L61.93 243.37 L64.56 186.37 L65.65 167.37 L67.45 142.03 L69.82 116.70 L72.35 97.70 L76.66 72.37 L77.89 66.03 L79.91 56.99 L82.21 47.50 L84.04 41.39 L85.32 38.01 L86.99 34.62 L88.73 31.90 L90.91 29.19 L93.17 27.16 L95.12 25.80 L97.48 24.45 L100.54 23.09 L105.09 21.73 L108.16 21.06 L113.77 20.38 L134.00 19.70 L149.00 19.70" stroke="#00cccc"/><path d="M54.90 296.00 L55.60 309.00 L56.30 309.00 L56.49 308.50 L57.17 302.17 L58.23 289.50 L59.49 270.50 L60.90 245.17 L63.80 181.83 L66.03 137.50 L67.22 118.50 L68.78 99.50 L70.82 80.50 L73.48 61.50 L76.26 45.23 L77.37 40.48 L78.60 36.42 L80.60 31.67 L81.83 29.64 L83.43 27.60 L85.51 25.57 L87.45 24.21 L88.98 23.53 L91.10 22.86 L94.56 22.18 L114.00 21.50 L149.00 21.50" stroke="#c8c800"/><path d="M54.90 296.00 L55.60 309.00 L56.30 309.50 L56.55 309.00 L57.77 296.33 L58.72 283.67 L61.00 245.67 L63.91 182.33 L65.86 144.33 L67.04 125.33 L68.53 106.33 L70.52 87.33 L73.05 68.33 L76.55 47.76 L77.77 42.34 L78.96 38.27 L80.24 34.88 L81.57 32.17 L82.88 30.14 L84.60 28.10 L86.03 26.75 L87.77 25.39 L90.59 24.03 L92.81 23.36 L96.48 22.68 L116.00 22.00 L149.00 22.00" stroke="#ff0000"/><path d="M54.90 296.00 L55.60 309.00 L56.30 309.70 L56.88 309.20 L60.04 271.20 L61.52 245.87 L64.14 188.87 L65.52 163.53 L67.20 138.20 L69.41 112.87 L71.78 93.87 L73.65 81.20 L75.74 68.53 L79.53 50.00 L80.71 45.25 L81.97 41.18 L83.32 37.79 L84.70 35.08 L86.43 32.37 L88.13 30.34 L90.45 28.30 L93.53 26.27 L96.53 24.91 L98.65 24.23 L101.34 23.56 L106.09 22.88 L126.00 22.20 L149.00 22.20" stroke="#ff1493"/><path d="M54.90 296.00 L55.60 309.00 L56.30 305.80 L56.68 305.30 L59.32 273.63 L61.21 241.97 L64.12 178.63 L65.47 153.30 L67.05 127.97 L68.55 108.97 L69.85 96.30 L71.39 83.63 L74.13 64.63 L77.79 44.74 L78.90 39.99 L80.10 35.93 L81.40 32.54 L83.10 29.15 L84.44 27.11 L86.22 25.08 L88.57 23.05 L90.61 21.69 L93.81 20.33 L96.22 19.66 L100.32 18.98 L120.00 18.30 L149.00 18.30" stroke="#ff8c00"/><path d="M54.90 296.00 L55.60 309.00 L56.30 309.30 L56.94 308.80 L60.13 270.80 L61.62 245.47 L64.24 188.47 L65.66 163.13 L67.40 137.80 L69.70 112.47 L72.17 93.47 L74.12 80.80 L76.28 68.13 L80.04 50.27 L81.24 45.53 L82.50 41.46 L83.83 38.07 L85.59 34.68 L87.40 31.97 L89.18 29.94 L91.62 27.90 L94.86 25.87 L98.05 24.51 L100.26 23.83 L103.04 23.16 L108.01 22.48 L128.00 21.80 L149.00 21.80" stroke="#7f00ff"/><path d="M54.90 296.00 L55.60 309.00 L57.01 308.10 L58.47 289.10 L60.23 270.10 L61.72 244.77 L64.35 187.77 L65.79 162.43 L67.60 137.10 L68.69 124.43 L69.99 111.77 L72.56 92.77 L74.59 80.10 L76.82 67.43 L80.71 49.57 L81.76 45.51 L83.02 41.44 L84.33 38.05 L85.68 35.34 L87.37 32.63 L89.54 29.91 L91.85 27.88 L93.81 26.52 L96.20 25.17 L99.56 23.81 L104.75 22.46 L109.93 21.78 L130.00 21.10 L149.00 21.10" stroke="#0000ff"/><path d="M54.90 296.00 L55.60 309.00 L56.30 311.60 L57.10 304.77 L58.17 292.10 L61.33 235.10 L65.97 133.77 L67.12 114.77 L68.62 95.77 L70.62 76.77 L73.94 53.25 L75.52 44.44 L76.53 40.37 L77.57 36.98 L78.66 34.27 L80.14 31.56 L81.63 29.52 L83.52 27.49 L84.42 26.81 L85.76 26.13 L87.69 25.46 L90.72 24.78 L110.00 24.10 L149.00 24.10" stroke="#22dd22"/><path d="M54.90 296.00 L55.60 309.00 L56.30 309.90 L56.88 309.40 L60.04 271.40 L61.52 246.07 L64.14 189.07 L65.52 163.73 L67.20 138.40 L69.41 113.07 L71.78 94.07 L73.65 81.40 L75.74 68.73 L79.53 50.20 L80.71 45.45 L81.97 41.38 L83.32 37.99 L84.70 35.28 L86.43 32.57 L88.13 30.54 L90.45 28.50 L93.53 26.47 L96.53 25.11 L98.65 24.43 L101.34 23.76 L106.09 23.08 L126.00 22.40 L149.00 22.40" stroke="#ff00ff"/><path d="M148.65 21.00 L150.90 21.07 L151.65 21.69 L152.40 22.92 L153.15 24.78 L153.90 27.26 L155.65 35.44 L184.40 224.19 L189.15 253.75 L192.65 273.09 L195.65 286.61 L197.15 292.07 L198.65 296.66 L200.15 300.45 L201.90 303.98 L203.65 306.72 L205.40 308.83" stroke="#3a9cf0"/><path d="M148.50 19.70 L152.25 19.70 L152.75 19.89 L153.50 20.67 L154.25 22.02 L155.00 23.96 L156.75 30.74 L158.00 37.52 L184.75 202.95 L189.00 228.33 L192.25 246.56 L195.75 263.84 L198.75 275.71 L200.25 280.50 L202.00 285.16 L203.75 288.91 L205.50 291.89" stroke="#00cccc"/><path d="M148.50 22.00 L151.50 22.00 L154.50 25.90 L154.75 25.90 L155.25 26.29 L155.75 27.20 L156.25 28.64 L157.50 34.50 L183.50 223.11 L187.75 251.52 L191.00 269.61 L192.50 276.29 L194.00 281.81 L195.50 286.25 L197.00 289.73 L198.75 292.81 L200.75 295.33 L203.00 297.26 L205.50 298.65" stroke="#ff0000"/><path d="M148.50 22.20 L150.75 22.27 L151.50 22.90 L152.25 24.15 L153.00 26.04 L153.75 28.55 L155.50 36.86 L183.50 223.51 L187.75 250.22 L191.00 267.94 L192.50 274.73 L194.00 280.48 L195.50 285.17 L197.25 289.45 L199.00 292.64 L201.00 295.27 L203.00 297.10 L205.50 298.62" stroke="#ff1493" stroke-dasharray="1.8 1.6"/><path d="M148.50 21.50 L151.00 21.57 L151.75 22.22 L152.50 23.51 L153.25 25.45 L154.00 28.04 L155.75 36.59 L183.50 227.09 L187.75 254.57 L191.00 272.77 L192.50 279.73 L194.00 285.62 L195.50 290.42 L197.25 294.79 L199.00 298.06 L201.00 300.74 L203.00 302.62 L205.50 304.17" stroke="#c8c800" stroke-dasharray="1.6 1.6"/><path d="M148.50 18.30 L150.50 18.30 L157.50 25.30 L158.00 25.49 L158.50 26.44 L159.25 29.29 L160.00 33.85 L185.00 223.28 L188.75 250.25 L191.50 268.12 L193.25 277.97 L194.75 285.20 L196.25 291.22 L197.75 296.08 L199.50 300.47 L201.25 303.73 L203.25 306.40 L205.50 308.44" stroke="#ff8c00"/><path d="M148.50 21.10 L150.25 21.10 L150.75 21.30 L151.50 22.12 L152.25 23.54 L153.75 28.21 L155.50 36.74 L185.00 227.88 L189.25 254.09 L192.50 271.87 L195.25 283.89 L196.75 289.01 L198.25 293.15 L199.75 296.40 L201.50 299.29 L203.50 301.66 L205.50 303.32" stroke="#0000ff"/><path d="M148.50 24.10 L149.25 24.18 L150.00 24.92 L151.25 27.78 L152.50 32.69 L153.75 39.65 L182.00 242.39 L185.75 267.62 L188.50 283.19 L190.00 289.84 L191.50 295.04 L193.00 298.92 L194.75 302.11 L196.75 304.48 L199.00 306.11 L201.75 307.21 L205.50 307.92" stroke="#22dd22"/><path d="M148.50 22.40 L150.25 22.40 L150.75 22.60 L151.50 23.42 L152.25 24.84 L153.75 29.51 L155.50 38.04 L185.25 230.81 L189.50 257.05 L192.75 274.88 L194.25 281.89 L195.75 287.91 L197.00 292.14 L198.50 296.30 L200.00 299.59 L201.75 302.51 L203.50 304.65 L205.50 306.40" stroke="#ff00ff"/><path d="M148.50 21.80 L150.25 21.80 L150.75 22.00 L151.50 22.82 L152.25 24.24 L153.75 28.91 L155.50 37.44 L185.00 228.57 L189.25 254.75 L192.50 272.45 L195.25 284.38 L196.75 289.45 L198.25 293.53 L199.75 296.75 L201.50 299.60 L203.50 301.94 L205.50 303.57" stroke="#7f00ff" stroke-dasharray="1.6 1.4"/><path d="M205.00 308.83 L206.00 309.21 L207.00 310.29 L208.00 311.66 L209.00 311.91 L210.00 311.97 L211.00 313.37 L212.00 312.53 L213.00 313.53 L214.00 314.16 L215.00 313.98 L216.00 314.09 L217.00 315.01 L218.00 314.08 L219.00 314.34 L220.00 315.41 L221.00 314.97 L222.00 315.13 L223.00 315.41 L224.00 314.93 L225.00 315.36 L226.00 315.96 L227.00 314.81 L228.00 315.46 L229.00 315.91 L230.00 315.10 L231.00 315.41 L232.00 315.79 L233.00 315.05 L234.00 315.70 L235.00 316.00 L236.00 315.10 L237.00 315.04 L238.00 315.82 L239.00 315.12 L240.00 315.27 L241.00 315.75 L242.00 315.37 L243.00 315.47 L244.00 315.70 L245.00 314.99 L246.00 315.47 L247.00 316.21 L248.00 314.97 L249.00 315.81 L250.00 315.92 L251.00 314.93 L252.00 315.62 L253.00 316.27 L254.00 315.20 L255.00 315.65 L256.00 315.96 L257.00 315.24 L258.00 315.83 L259.00 316.18 L260.00 315.03 L261.00 316.04 L262.00 315.83 L263.00 315.40 L264.00 315.62 L265.00 316.00 L266.00 315.28 L267.00 315.50 L268.00 316.17 L269.00 315.12 L270.00 315.32 L271.00 316.10 L272.00 315.56 L273.00 315.51 L274.00 316.32 L275.00 315.23 L276.00 315.81 L277.00 316.19 L278.00 315.34 L279.00 315.70 L280.00 315.87 L281.00 315.26 L282.00 315.25 L283.00 315.70 L284.00 315.41 L285.00 315.51 L286.00 316.20 L287.00 315.27 L288.00 315.40 L289.00 316.54 L290.00 315.50 L291.00 315.57 L292.00 316.02 L293.00 315.54 L294.00 315.48 L295.00 316.29 L296.00 315.37 L297.00 315.30 L298.00 316.15 L299.00 315.45 L300.00 315.63 L301.00 316.19 L302.00 315.49 L303.00 315.45 L304.00 316.42 L305.00 315.28 L306.00 315.68 L307.00 315.73 L308.00 315.43 L309.00 315.66 L310.00 315.91 L311.00 315.37 L312.00 315.63 L313.00 316.20 L314.00 315.38 L315.00 315.43 L316.00 316.03 L317.00 314.94 L318.00 315.54 L319.00 315.93 L320.00 315.44 L321.00 315.78 L322.00 316.13 L323.00 314.91 L324.00 315.63 L325.00 315.82 L326.00 315.33 L327.00 315.56 L328.00 315.82 L329.00 315.01 L330.00 315.69 L331.00 316.40 L332.00 315.24 L333.00 315.59 L334.00 315.92 L335.00 315.20 L336.00 315.23 L337.00 316.03 L338.00 315.28 L339.00 315.48 L340.00 316.04 L341.00 315.18 L342.00 315.78 L343.00 316.00 L344.00 315.29 L345.00 315.71 L346.00 316.05 L347.00 315.32 L348.00 315.21 L349.00 315.97 L350.00 315.59 L351.00 315.60 L352.00 316.20 L353.00 315.32 L354.00 315.87 L355.00 315.88 L356.00 315.10 L357.00 315.65 L358.00 316.16 L359.00 315.30 L360.00 315.59 L361.00 315.90 L362.00 315.43 L363.00 315.54 L364.00 316.11 L365.00 315.16 L366.00 315.90 L367.00 315.94 L368.00 315.28 L369.00 315.34 L370.00 315.87 L371.00 315.24 L372.00 315.39 L373.00 316.04 L374.00 315.10 L375.00 315.56 L376.00 316.02 L377.00 315.47 L378.00 315.44 L379.00 316.32 L380.00 315.48 L381.00 313.79 L382.00 312.71 L383.00 311.10 L384.00 310.30 L385.00 309.18 L386.00 307.44 L387.00 306.68 L388.00 306.56 L389.00 304.81 L390.00 304.40 L391.00 304.24 L392.00 302.63 L393.00 302.84 L394.00 302.48 L395.00 301.90 L396.00 301.65 L397.00 301.57 L398.00 299.96 L399.00 300.46 L400.00 300.81 L401.00 299.74 L402.00 299.63 L403.00 300.40 L404.00 299.23 L405.00 299.19 L406.00 299.95 L407.00 298.74 L408.00 298.87 L409.00 299.29 L410.00 298.57 L411.00 298.61 L412.00 299.00 L413.00 298.16 L414.00 298.68 L415.00 298.78 L416.00 297.70 L417.00 298.05 L418.00 298.54 L419.00 298.01 L420.00 298.28 L421.00 298.46 L422.00 297.72 L423.00 297.93 L424.00 298.18 L425.00 297.45 L426.00 297.68 L427.00 298.43 L428.00 297.74 L429.00 297.84 L430.00 298.25 L431.00 297.68 L432.00 297.67 L433.00 297.95 L434.00 297.52 L435.00 297.87 L436.00 298.09 L437.00 297.25 L438.00 297.66 L439.00 298.02 L440.00 297.44 L441.00 297.72 L442.00 298.28 L443.00 297.64 L444.00 297.76 L445.00 298.35 L446.00 297.74 L447.00 298.76 L448.00 297.51 L449.00 294.82 L450.00 293.51 L451.00 292.80 L452.00 290.93 L453.00 290.01 L454.00 289.44 L455.00 287.94 L456.00 287.15 L457.00 286.79 L458.00 285.41 L459.00 285.10 L460.00 284.81 L461.00 284.14 L462.00 283.76 L463.00 283.88 L464.00 282.71 L465.00 282.79 L466.00 282.89 L467.00 282.15 L468.00 281.77 L469.00 282.47 L470.00 281.42 L471.00 281.75 L472.00 282.14 L473.00 281.24 L474.00 281.17 L475.00 281.40 L476.00 280.96 L477.00 280.72 L478.00 281.37 L479.00 280.40 L480.00 280.75 L481.00 281.50 L482.00 280.45 L483.00 280.64 L484.00 281.02 L485.00 280.29 L486.00 280.63 L487.00 281.05 L488.00 279.99 L489.00 280.30 L490.00 280.88 L491.00 280.23 L492.00 280.44 L493.00 280.80 L494.00 279.71 L495.00 280.11 L496.00 281.06 L497.00 279.93 L498.00 280.53 L499.00 280.83 L500.00 279.89 L501.00 279.98 L502.00 280.70 L503.00 279.87 L504.00 280.05 L505.00 280.68 L506.00 280.22 L507.00 280.56 L508.00 280.40 L509.00 279.92 L510.00 280.19 L511.00 280.79 L512.00 280.10 L513.00 280.31 L514.00 280.74 L515.00 279.68 L516.00 280.08 L517.00 280.65 L518.00 279.84 L519.00 279.96 L520.00 280.50 L521.00 280.08 L522.00 280.03 L523.00 280.64" stroke="#3a9cf0"/><path d="M205.00 291.24 L206.00 293.32 L207.00 293.85 L208.00 295.14 L209.00 296.27 L210.00 296.38 L211.00 297.70 L212.00 298.43 L213.00 298.58 L214.00 299.38 L215.00 300.25 L216.00 299.87 L217.00 300.62 L218.00 301.40 L219.00 300.72 L220.00 301.43 L221.00 301.90 L222.00 301.45 L223.00 301.88 L224.00 301.97 L225.00 301.34 L226.00 302.10 L227.00 302.14 L228.00 301.72 L229.00 302.04 L230.00 302.52 L231.00 301.76 L232.00 302.12 L233.00 302.66 L234.00 301.97 L235.00 302.70 L236.00 302.87 L237.00 301.83 L238.00 302.53 L239.00 303.03 L240.00 301.91 L241.00 302.27 L242.00 303.07 L243.00 301.88 L244.00 302.47 L245.00 302.87 L246.00 301.81 L247.00 302.47 L248.00 303.06 L249.00 302.06 L250.00 302.36 L251.00 302.65 L252.00 302.20 L253.00 302.81 L254.00 303.08 L255.00 301.58 L256.00 302.45 L257.00 302.98 L258.00 302.32 L259.00 302.42 L260.00 302.42 L261.00 302.34 L262.00 302.40 L263.00 303.11 L264.00 302.14 L265.00 302.37 L266.00 302.92 L267.00 301.87 L268.00 302.56 L269.00 303.01 L270.00 301.88 L271.00 302.76 L272.00 302.52 L273.00 301.86 L274.00 302.58 L275.00 302.82 L276.00 302.03 L277.00 302.36 L278.00 302.59 L279.00 301.79 L280.00 302.89 L281.00 303.01 L282.00 301.95 L283.00 302.43 L284.00 302.83 L285.00 301.74 L286.00 302.51 L287.00 303.16 L288.00 301.89 L289.00 302.46 L290.00 303.36 L291.00 302.28 L292.00 302.98 L293.00 302.74 L294.00 302.10 L295.00 302.37 L296.00 302.87 L297.00 302.33 L298.00 302.48 L299.00 302.82 L300.00 302.19 L301.00 302.66 L302.00 303.02 L303.00 302.23 L304.00 302.35 L305.00 303.00 L306.00 302.30 L307.00 302.48 L308.00 302.72 L309.00 302.27 L310.00 302.57 L311.00 302.85 L312.00 302.32 L313.00 302.73 L314.00 302.71 L315.00 301.82 L316.00 302.59 L317.00 302.85 L318.00 302.01 L319.00 302.41 L320.00 302.93 L321.00 302.14 L322.00 302.65 L323.00 302.74 L324.00 302.02 L325.00 302.12 L326.00 302.88 L327.00 302.08 L328.00 302.43 L329.00 303.01 L330.00 302.21 L331.00 302.69 L332.00 302.85 L333.00 302.22 L334.00 303.05 L335.00 302.77 L336.00 301.94 L337.00 303.02 L338.00 303.08 L339.00 301.82 L340.00 302.54 L341.00 302.92 L342.00 301.78 L343.00 302.22 L344.00 302.78 L345.00 301.95 L346.00 302.44 L347.00 303.12 L348.00 302.23 L349.00 302.47 L350.00 302.66 L351.00 301.92 L352.00 302.42 L353.00 302.58 L354.00 301.86 L355.00 302.91 L356.00 302.81 L357.00 302.04 L358.00 302.53 L359.00 302.79 L360.00 301.88 L361.00 302.48 L362.00 302.87 L363.00 302.15 L364.00 302.51 L365.00 303.02 L366.00 301.73 L367.00 302.51 L368.00 303.00 L369.00 302.39 L370.00 302.53 L371.00 303.01 L372.00 302.00 L373.00 302.74 L374.00 302.70 L375.00 301.94 L376.00 302.84 L377.00 303.06 L378.00 301.97 L379.00 302.71 L380.00 302.80 L381.00 299.80 L382.00 299.04 L383.00 297.94 L384.00 295.54 L385.00 295.01 L386.00 294.24 L387.00 292.39 L388.00 292.20 L389.00 291.73 L390.00 290.47 L391.00 289.97 L392.00 290.10 L393.00 288.66 L394.00 288.79 L395.00 289.06 L396.00 287.57 L397.00 288.18 L398.00 288.03 L399.00 287.00 L400.00 287.36 L401.00 287.34 L402.00 287.00 L403.00 287.06 L404.00 286.67 L405.00 286.06 L406.00 286.60 L407.00 286.53 L408.00 286.19 L409.00 286.47 L410.00 286.48 L411.00 285.71 L412.00 286.20 L413.00 286.80 L414.00 285.76 L415.00 286.43 L416.00 286.65 L417.00 285.65 L418.00 285.95 L419.00 286.76 L420.00 285.70 L421.00 286.02 L422.00 286.39 L423.00 285.71 L424.00 286.16 L425.00 286.51 L426.00 285.60 L427.00 286.44 L428.00 286.09 L429.00 285.64 L430.00 286.15 L431.00 286.55 L432.00 285.41 L433.00 286.32 L434.00 286.10 L435.00 285.85 L436.00 286.04 L437.00 286.23 L438.00 285.44 L439.00 286.25 L440.00 286.48 L441.00 285.76 L442.00 285.81 L443.00 286.05 L444.00 285.58 L445.00 286.16 L446.00 286.31 L447.00 286.68 L448.00 284.96 L449.00 283.60 L450.00 281.09 L451.00 279.91 L452.00 279.50 L453.00 277.14 L454.00 276.64 L455.00 276.56 L456.00 274.75 L457.00 274.58 L458.00 274.52 L459.00 272.78 L460.00 272.95 L461.00 272.85 L462.00 271.75 L463.00 271.83 L464.00 271.99 L465.00 270.56 L466.00 271.23 L467.00 271.21 L468.00 270.11 L469.00 270.49 L470.00 270.63 L471.00 269.75 L472.00 270.10 L473.00 270.19 L474.00 269.59 L475.00 270.09 L476.00 270.18 L477.00 269.46 L478.00 270.02 L479.00 270.10 L480.00 269.14 L481.00 269.52 L482.00 269.94 L483.00 269.60 L484.00 269.93 L485.00 269.58 L486.00 269.20 L487.00 269.51 L488.00 269.89 L489.00 269.02 L490.00 269.42 L491.00 269.69 L492.00 268.80 L493.00 269.86 L494.00 270.01 L495.00 268.83 L496.00 269.62 L497.00 269.75 L498.00 268.89 L499.00 269.57 L500.00 270.16 L501.00 268.80 L502.00 269.48 L503.00 269.65 L504.00 268.71 L505.00 269.60 L506.00 269.58 L507.00 269.17 L508.00 269.66 L509.00 269.66 L510.00 268.88 L511.00 269.26 L512.00 269.65 L513.00 268.94 L514.00 269.35 L515.00 269.76 L516.00 269.01 L517.00 269.55 L518.00 269.36 L519.00 268.92 L520.00 269.47 L521.00 269.77 L522.00 269.00 L523.00 269.40 L524.00 269.80" stroke="#00cccc"/><path d="M205.00 299.06 L206.00 298.71 L207.00 298.94 L208.00 300.18 L209.00 299.49 L210.00 299.69 L211.00 300.46 L212.00 300.40 L213.00 299.99 L214.00 301.01 L215.00 300.46 L216.00 300.25 L217.00 301.31 L218.00 300.82 L219.00 300.67 L220.00 301.32 L221.00 300.72 L222.00 300.33 L223.00 301.07 L224.00 300.92 L225.00 300.77 L226.00 301.43 L227.00 300.63 L228.00 300.59 L229.00 301.90 L230.00 300.82 L231.00 300.53 L232.00 301.65 L233.00 300.73 L234.00 300.51 L235.00 301.45 L236.00 301.29 L237.00 300.55 L238.00 301.33 L239.00 300.93 L240.00 300.65 L241.00 301.51 L242.00 300.96 L243.00 300.67 L244.00 301.43 L245.00 300.58 L246.00 300.33 L247.00 301.68 L248.00 301.00 L249.00 301.05 L250.00 301.32 L251.00 301.07 L252.00 300.61 L253.00 301.11 L254.00 300.72 L255.00 300.53 L256.00 301.75 L257.00 300.97 L258.00 300.75 L259.00 301.37 L260.00 300.80 L261.00 300.95 L262.00 301.42 L263.00 300.79 L264.00 300.74 L265.00 301.51 L266.00 300.92 L267.00 300.66 L268.00 301.98 L269.00 300.88 L270.00 300.87 L271.00 301.03 L272.00 301.18 L273.00 300.60 L274.00 301.23 L275.00 300.82 L276.00 300.63 L277.00 301.48 L278.00 300.89 L279.00 300.69 L280.00 301.42 L281.00 300.62 L282.00 300.58 L283.00 301.57 L284.00 301.34 L285.00 300.84 L286.00 301.62 L287.00 301.05 L288.00 300.73 L289.00 301.90 L290.00 300.59 L291.00 300.73 L292.00 301.03 L293.00 300.82 L294.00 300.51 L295.00 301.27 L296.00 301.20 L297.00 300.49 L298.00 301.38 L299.00 301.04 L300.00 300.98 L301.00 301.84 L302.00 301.03 L303.00 300.78 L304.00 301.62 L305.00 301.12 L306.00 300.67 L307.00 301.30 L308.00 300.76 L309.00 300.63 L310.00 301.80 L311.00 300.92 L312.00 300.58 L313.00 301.19 L314.00 300.86 L315.00 300.74 L316.00 301.22 L317.00 300.97 L318.00 300.53 L319.00 301.30 L320.00 300.90 L321.00 300.51 L322.00 301.26 L323.00 301.04 L324.00 300.71 L325.00 301.32 L326.00 300.40 L327.00 300.80 L328.00 301.63 L329.00 300.67 L330.00 300.66 L331.00 301.19 L332.00 300.83 L333.00 300.72 L334.00 301.58 L335.00 300.92 L336.00 300.56 L337.00 301.20 L338.00 300.93 L339.00 300.65 L340.00 301.12 L341.00 301.01 L342.00 300.95 L343.00 300.93 L344.00 300.75 L345.00 300.70 L346.00 301.39 L347.00 300.94 L348.00 300.41 L349.00 301.51 L350.00 300.70 L351.00 300.38 L352.00 301.43 L353.00 300.96 L354.00 300.49 L355.00 301.50 L356.00 300.71 L357.00 300.51 L358.00 301.40 L359.00 300.71 L360.00 300.55 L361.00 301.61 L362.00 300.88 L363.00 300.80 L364.00 301.59 L365.00 301.15 L366.00 300.97 L367.00 301.35 L368.00 300.88 L369.00 300.83 L370.00 301.34 L371.00 300.94 L372.00 300.83 L373.00 301.34 L374.00 300.78 L375.00 300.84 L376.00 301.35 L377.00 300.86 L378.00 300.87 L379.00 301.61 L380.00 300.76 L381.00 298.90 L382.00 297.37 L383.00 295.59 L384.00 294.14 L385.00 293.29 L386.00 291.55 L387.00 290.28 L388.00 290.43 L389.00 289.41 L390.00 288.26 L391.00 288.87 L392.00 287.60 L393.00 286.93 L394.00 287.44 L395.00 286.35 L396.00 285.90 L397.00 286.45 L398.00 285.53 L399.00 285.25 L400.00 285.41 L401.00 284.99 L402.00 284.51 L403.00 285.22 L404.00 284.70 L405.00 284.16 L406.00 284.62 L407.00 284.34 L408.00 284.07 L409.00 284.59 L410.00 284.23 L411.00 283.84 L412.00 284.82 L413.00 283.82 L414.00 283.82 L415.00 284.37 L416.00 283.93 L417.00 284.26 L418.00 284.81 L419.00 283.69 L420.00 283.62 L421.00 284.42 L422.00 283.76 L423.00 283.69 L424.00 284.60 L425.00 283.80 L426.00 283.36 L427.00 284.43 L428.00 283.88 L429.00 283.61 L430.00 284.18 L431.00 284.07 L432.00 283.69 L433.00 284.39 L434.00 283.93 L435.00 283.72 L436.00 284.35 L437.00 283.90 L438.00 283.24 L439.00 284.46 L440.00 283.90 L441.00 283.28 L442.00 283.98 L443.00 283.74 L444.00 283.47 L445.00 284.29 L446.00 284.17 L447.00 284.68 L448.00 282.94 L449.00 280.26 L450.00 278.52 L451.00 277.76 L452.00 275.71 L453.00 273.87 L454.00 273.71 L455.00 272.08 L456.00 271.35 L457.00 271.39 L458.00 270.15 L459.00 269.07 L460.00 269.57 L461.00 268.85 L462.00 268.17 L463.00 268.61 L464.00 267.95 L465.00 267.24 L466.00 267.88 L467.00 266.84 L468.00 266.30 L469.00 267.46 L470.00 266.59 L471.00 266.53 L472.00 267.11 L473.00 266.19 L474.00 265.94 L475.00 266.56 L476.00 266.21 L477.00 265.86 L478.00 266.32 L479.00 266.04 L480.00 265.87 L481.00 266.34 L482.00 266.15 L483.00 266.00 L484.00 266.36 L485.00 266.01 L486.00 265.60 L487.00 266.18 L488.00 265.47 L489.00 265.61 L490.00 266.19 L491.00 266.04 L492.00 265.62 L493.00 266.38 L494.00 265.95 L495.00 265.46 L496.00 266.47 L497.00 265.83 L498.00 265.63 L499.00 266.39 L500.00 265.70 L501.00 265.44 L502.00 266.05 L503.00 266.09 L504.00 265.45 L505.00 266.53 L506.00 266.10 L507.00 265.92 L508.00 266.61 L509.00 265.68 L510.00 265.78 L511.00 266.12 L512.00 265.87 L513.00 265.68 L514.00 266.65 L515.00 265.78 L516.00 265.41 L517.00 266.32 L518.00 265.32 L519.00 265.60 L520.00 266.49 L521.00 265.64 L522.00 265.47 L523.00 266.42 L524.00 265.85" stroke="#ff0000"/><path d="M205.00 298.10 L206.00 299.43 L207.00 298.96 L208.00 299.22 L209.00 300.47 L210.00 299.51 L211.00 299.92 L212.00 300.97 L213.00 300.35 L214.00 300.51 L215.00 301.34 L216.00 300.46 L217.00 300.83 L218.00 301.63 L219.00 300.61 L220.00 301.13 L221.00 301.50 L222.00 301.00 L223.00 301.11 L224.00 301.24 L225.00 301.05 L226.00 300.92 L227.00 301.84 L228.00 301.14 L229.00 300.93 L230.00 301.77 L231.00 300.66 L232.00 301.03 L233.00 301.53 L234.00 301.04 L235.00 301.05 L236.00 301.74 L237.00 301.10 L238.00 301.14 L239.00 301.28 L240.00 300.97 L241.00 300.75 L242.00 301.76 L243.00 300.89 L244.00 301.23 L245.00 301.56 L246.00 300.73 L247.00 300.89 L248.00 301.59 L249.00 301.00 L250.00 300.96 L251.00 301.59 L252.00 301.05 L253.00 300.98 L254.00 301.53 L255.00 300.78 L256.00 301.46 L257.00 301.48 L258.00 300.89 L259.00 301.08 L260.00 301.60 L261.00 300.86 L262.00 301.07 L263.00 302.16 L264.00 300.95 L265.00 300.95 L266.00 301.53 L267.00 300.90 L268.00 300.74 L269.00 301.51 L270.00 301.06 L271.00 300.79 L272.00 301.81 L273.00 300.50 L274.00 300.98 L275.00 301.59 L276.00 301.11 L277.00 300.56 L278.00 301.63 L279.00 301.04 L280.00 301.03 L281.00 302.08 L282.00 300.99 L283.00 300.84 L284.00 301.52 L285.00 300.86 L286.00 301.01 L287.00 301.71 L288.00 300.80 L289.00 300.90 L290.00 301.70 L291.00 300.81 L292.00 300.86 L293.00 302.00 L294.00 300.86 L295.00 300.73 L296.00 302.01 L297.00 300.75 L298.00 301.27 L299.00 301.45 L300.00 300.88 L301.00 300.71 L302.00 301.35 L303.00 301.00 L304.00 301.15 L305.00 301.62 L306.00 301.19 L307.00 300.86 L308.00 301.77 L309.00 301.11 L310.00 300.99 L311.00 301.81 L312.00 301.20 L313.00 300.77 L314.00 301.69 L315.00 301.10 L316.00 301.10 L317.00 301.66 L318.00 301.05 L319.00 301.21 L320.00 301.73 L321.00 301.08 L322.00 301.12 L323.00 301.60 L324.00 300.98 L325.00 301.02 L326.00 301.58 L327.00 301.06 L328.00 301.18 L329.00 301.58 L330.00 301.33 L331.00 301.09 L332.00 301.64 L333.00 300.91 L334.00 301.50 L335.00 301.63 L336.00 300.34 L337.00 301.09 L338.00 301.41 L339.00 300.88 L340.00 301.08 L341.00 301.58 L342.00 301.07 L343.00 300.96 L344.00 301.56 L345.00 300.91 L346.00 301.03 L347.00 301.79 L348.00 300.79 L349.00 300.95 L350.00 301.42 L351.00 301.11 L352.00 301.09 L353.00 301.20 L354.00 301.02 L355.00 300.93 L356.00 301.36 L357.00 300.93 L358.00 301.16 L359.00 301.63 L360.00 300.87 L361.00 300.81 L362.00 301.55 L363.00 300.79 L364.00 300.83 L365.00 301.70 L366.00 301.06 L367.00 300.97 L368.00 301.83 L369.00 300.81 L370.00 300.95 L371.00 301.72 L372.00 301.04 L373.00 301.29 L374.00 301.59 L375.00 300.76 L376.00 301.18 L377.00 301.59 L378.00 300.73 L379.00 300.83 L380.00 301.42 L381.00 298.97 L382.00 297.09 L383.00 296.33 L384.00 293.76 L385.00 292.86 L386.00 292.75 L387.00 291.07 L388.00 290.07 L389.00 290.32 L390.00 288.85 L391.00 288.02 L392.00 288.72 L393.00 287.11 L394.00 286.65 L395.00 287.04 L396.00 285.98 L397.00 285.80 L398.00 286.02 L399.00 285.40 L400.00 285.28 L401.00 285.51 L402.00 285.18 L403.00 284.80 L404.00 285.33 L405.00 284.77 L406.00 284.96 L407.00 285.07 L408.00 284.34 L409.00 284.72 L410.00 284.95 L411.00 284.31 L412.00 284.11 L413.00 284.91 L414.00 284.32 L415.00 284.09 L416.00 284.67 L417.00 284.01 L418.00 284.09 L419.00 284.67 L420.00 284.06 L421.00 284.06 L422.00 284.55 L423.00 283.88 L424.00 283.93 L425.00 284.55 L426.00 284.05 L427.00 283.92 L428.00 284.52 L429.00 283.91 L430.00 283.95 L431.00 284.33 L432.00 284.00 L433.00 284.09 L434.00 284.67 L435.00 284.14 L436.00 283.68 L437.00 284.84 L438.00 283.69 L439.00 283.88 L440.00 284.60 L441.00 283.91 L442.00 284.05 L443.00 284.62 L444.00 283.84 L445.00 283.54 L446.00 284.40 L447.00 284.74 L448.00 282.57 L449.00 281.13 L450.00 278.49 L451.00 276.81 L452.00 276.65 L453.00 274.51 L454.00 273.53 L455.00 273.15 L456.00 271.34 L457.00 271.08 L458.00 270.91 L459.00 269.60 L460.00 269.44 L461.00 269.46 L462.00 268.37 L463.00 268.16 L464.00 268.46 L465.00 267.48 L466.00 267.34 L467.00 268.10 L468.00 267.00 L469.00 267.15 L470.00 267.22 L471.00 266.24 L472.00 266.76 L473.00 267.19 L474.00 266.56 L475.00 266.61 L476.00 266.76 L477.00 266.23 L478.00 266.60 L479.00 266.91 L480.00 265.97 L481.00 266.20 L482.00 266.84 L483.00 266.04 L484.00 266.16 L485.00 266.87 L486.00 265.93 L487.00 266.16 L488.00 266.46 L489.00 265.95 L490.00 265.71 L491.00 266.56 L492.00 265.91 L493.00 265.91 L494.00 266.44 L495.00 265.92 L496.00 265.91 L497.00 266.87 L498.00 265.91 L499.00 266.15 L500.00 266.72 L501.00 265.74 L502.00 265.89 L503.00 266.38 L504.00 265.69 L505.00 265.86 L506.00 266.51 L507.00 265.81 L508.00 265.73 L509.00 266.56 L510.00 265.84 L511.00 265.99 L512.00 266.87 L513.00 265.80 L514.00 265.78 L515.00 266.63 L516.00 266.04 L517.00 266.16 L518.00 266.92 L519.00 265.63 L520.00 265.83 L521.00 266.40 L522.00 265.81 L523.00 265.88 L524.00 266.67" stroke="#ff1493" stroke-dasharray="1.8 1.6"/><path d="M205.00 304.45 L206.00 304.29 L207.00 304.90 L208.00 305.49 L209.00 304.99 L210.00 305.46 L211.00 306.55 L212.00 305.69 L213.00 306.43 L214.00 306.58 L215.00 306.06 L216.00 306.40 L217.00 306.69 L218.00 306.18 L219.00 306.60 L220.00 307.00 L221.00 306.17 L222.00 306.48 L223.00 307.01 L224.00 306.14 L225.00 306.63 L226.00 307.33 L227.00 306.18 L228.00 306.94 L229.00 307.21 L230.00 306.47 L231.00 306.81 L232.00 306.98 L233.00 306.46 L234.00 306.71 L235.00 307.03 L236.00 306.04 L237.00 307.08 L238.00 307.18 L239.00 306.38 L240.00 306.91 L241.00 307.46 L242.00 306.16 L243.00 306.58 L244.00 307.18 L245.00 306.27 L246.00 306.97 L247.00 307.41 L248.00 306.37 L249.00 306.81 L250.00 306.91 L251.00 306.25 L252.00 307.17 L253.00 306.93 L254.00 306.47 L255.00 306.52 L256.00 307.41 L257.00 306.56 L258.00 307.02 L259.00 307.14 L260.00 306.20 L261.00 306.68 L262.00 306.57 L263.00 306.31 L264.00 306.48 L265.00 306.77 L266.00 306.52 L267.00 307.27 L268.00 307.29 L269.00 306.43 L270.00 307.01 L271.00 307.29 L272.00 306.35 L273.00 306.64 L274.00 307.24 L275.00 306.54 L276.00 307.25 L277.00 307.23 L278.00 306.32 L279.00 306.96 L280.00 307.10 L281.00 306.19 L282.00 307.06 L283.00 307.15 L284.00 306.24 L285.00 306.72 L286.00 307.14 L287.00 306.13 L288.00 306.68 L289.00 307.08 L290.00 306.20 L291.00 306.55 L292.00 307.02 L293.00 306.50 L294.00 307.04 L295.00 307.28 L296.00 306.40 L297.00 306.89 L298.00 307.18 L299.00 306.54 L300.00 306.53 L301.00 307.03 L302.00 306.26 L303.00 307.07 L304.00 307.09 L305.00 306.33 L306.00 306.73 L307.00 307.36 L308.00 306.50 L309.00 306.62 L310.00 307.39 L311.00 306.34 L312.00 306.54 L313.00 307.39 L314.00 306.70 L315.00 306.88 L316.00 307.20 L317.00 306.61 L318.00 307.04 L319.00 307.10 L320.00 306.50 L321.00 306.69 L322.00 306.80 L323.00 306.42 L324.00 306.90 L325.00 307.15 L326.00 306.40 L327.00 306.82 L328.00 307.38 L329.00 306.55 L330.00 306.68 L331.00 307.04 L332.00 306.56 L333.00 307.06 L334.00 306.98 L335.00 306.52 L336.00 306.97 L337.00 307.02 L338.00 306.27 L339.00 307.03 L340.00 306.87 L341.00 306.50 L342.00 306.96 L343.00 307.37 L344.00 306.31 L345.00 306.74 L346.00 307.32 L347.00 306.04 L348.00 307.01 L349.00 307.45 L350.00 306.47 L351.00 306.66 L352.00 307.19 L353.00 306.50 L354.00 306.76 L355.00 307.05 L356.00 306.56 L357.00 306.88 L358.00 307.11 L359.00 306.46 L360.00 306.93 L361.00 307.31 L362.00 306.65 L363.00 306.81 L364.00 307.46 L365.00 306.39 L366.00 307.02 L367.00 307.43 L368.00 306.52 L369.00 307.04 L370.00 307.01 L371.00 306.63 L372.00 306.92 L373.00 307.18 L374.00 306.37 L375.00 306.89 L376.00 307.04 L377.00 306.60 L378.00 307.54 L379.00 307.18 L380.00 306.20 L381.00 304.55 L382.00 303.63 L383.00 301.29 L384.00 299.91 L385.00 299.30 L386.00 297.07 L387.00 296.58 L388.00 296.05 L389.00 294.25 L390.00 294.11 L391.00 294.17 L392.00 292.66 L393.00 292.72 L394.00 292.61 L395.00 291.57 L396.00 291.32 L397.00 291.57 L398.00 290.47 L399.00 290.65 L400.00 290.56 L401.00 290.03 L402.00 290.26 L403.00 290.14 L404.00 289.44 L405.00 289.29 L406.00 290.01 L407.00 288.90 L408.00 289.09 L409.00 289.40 L410.00 288.79 L411.00 289.34 L412.00 289.63 L413.00 288.34 L414.00 288.89 L415.00 289.35 L416.00 288.40 L417.00 289.00 L418.00 289.01 L419.00 288.23 L420.00 288.74 L421.00 289.04 L422.00 288.48 L423.00 288.43 L424.00 289.08 L425.00 287.85 L426.00 288.59 L427.00 289.38 L428.00 288.16 L429.00 288.82 L430.00 289.15 L431.00 288.16 L432.00 288.44 L433.00 289.24 L434.00 288.76 L435.00 288.82 L436.00 288.94 L437.00 288.14 L438.00 288.53 L439.00 288.59 L440.00 288.21 L441.00 288.66 L442.00 288.70 L443.00 288.18 L444.00 288.66 L445.00 288.92 L446.00 288.16 L447.00 289.62 L448.00 287.67 L449.00 285.21 L450.00 284.13 L451.00 282.53 L452.00 280.59 L453.00 279.85 L454.00 278.95 L455.00 277.26 L456.00 276.80 L457.00 276.48 L458.00 275.34 L459.00 275.07 L460.00 274.84 L461.00 273.57 L462.00 273.90 L463.00 273.60 L464.00 272.68 L465.00 272.84 L466.00 272.76 L467.00 272.21 L468.00 272.25 L469.00 272.26 L470.00 271.55 L471.00 272.09 L472.00 272.01 L473.00 271.24 L474.00 271.49 L475.00 271.66 L476.00 270.91 L477.00 270.97 L478.00 271.70 L479.00 270.91 L480.00 271.16 L481.00 271.61 L482.00 270.71 L483.00 271.44 L484.00 271.52 L485.00 270.73 L486.00 271.18 L487.00 271.50 L488.00 270.50 L489.00 271.27 L490.00 271.29 L491.00 270.47 L492.00 270.84 L493.00 271.42 L494.00 270.46 L495.00 271.04 L496.00 271.39 L497.00 270.55 L498.00 270.81 L499.00 271.25 L500.00 270.40 L501.00 270.69 L502.00 271.19 L503.00 270.60 L504.00 270.81 L505.00 271.44 L506.00 270.21 L507.00 270.97 L508.00 271.32 L509.00 270.78 L510.00 270.81 L511.00 271.10 L512.00 270.58 L513.00 270.92 L514.00 271.12 L515.00 270.33 L516.00 270.79 L517.00 271.13 L518.00 270.67 L519.00 270.88 L520.00 271.19 L521.00 270.51 L522.00 271.14 L523.00 271.46 L524.00 270.35" stroke="#c8c800" stroke-dasharray="1.6 1.6"/><path d="M205.00 307.70 L206.00 309.15 L207.00 308.91 L208.00 309.69 L209.00 310.94 L210.00 310.36 L211.00 310.96 L212.00 311.69 L213.00 311.08 L214.00 311.57 L215.00 312.10 L216.00 311.43 L217.00 312.05 L218.00 312.51 L219.00 311.84 L220.00 311.88 L221.00 312.87 L222.00 311.87 L223.00 311.98 L224.00 312.86 L225.00 311.84 L226.00 312.38 L227.00 312.80 L228.00 311.82 L229.00 312.43 L230.00 312.56 L231.00 311.91 L232.00 311.91 L233.00 312.67 L234.00 312.31 L235.00 312.71 L236.00 313.07 L237.00 312.31 L238.00 312.01 L239.00 313.40 L240.00 312.13 L241.00 312.19 L242.00 313.10 L243.00 311.85 L244.00 312.35 L245.00 312.92 L246.00 311.96 L247.00 312.28 L248.00 312.71 L249.00 312.21 L250.00 312.29 L251.00 312.70 L252.00 312.04 L253.00 312.42 L254.00 312.83 L255.00 312.04 L256.00 312.59 L257.00 312.60 L258.00 312.33 L259.00 312.00 L260.00 312.63 L261.00 312.30 L262.00 312.19 L263.00 312.75 L264.00 312.22 L265.00 312.12 L266.00 312.77 L267.00 311.94 L268.00 312.41 L269.00 312.73 L270.00 312.30 L271.00 312.37 L272.00 312.87 L273.00 311.91 L274.00 312.66 L275.00 312.72 L276.00 312.21 L277.00 312.24 L278.00 312.70 L279.00 312.15 L280.00 312.19 L281.00 312.64 L282.00 312.27 L283.00 312.54 L284.00 312.55 L285.00 311.96 L286.00 312.39 L287.00 312.79 L288.00 312.23 L289.00 312.40 L290.00 313.07 L291.00 311.91 L292.00 312.38 L293.00 313.07 L294.00 311.82 L295.00 312.37 L296.00 312.77 L297.00 311.86 L298.00 312.32 L299.00 312.52 L300.00 312.22 L301.00 312.38 L302.00 312.69 L303.00 312.05 L304.00 312.26 L305.00 312.73 L306.00 312.20 L307.00 312.33 L308.00 312.83 L309.00 311.61 L310.00 312.33 L311.00 312.99 L312.00 311.69 L313.00 312.18 L314.00 312.93 L315.00 311.77 L316.00 312.34 L317.00 312.82 L318.00 312.02 L319.00 312.05 L320.00 312.72 L321.00 311.91 L322.00 312.09 L323.00 312.82 L324.00 311.72 L325.00 312.60 L326.00 312.90 L327.00 311.97 L328.00 312.52 L329.00 312.72 L330.00 312.08 L331.00 312.52 L332.00 312.66 L333.00 311.70 L334.00 312.18 L335.00 312.99 L336.00 312.13 L337.00 312.29 L338.00 312.70 L339.00 311.96 L340.00 312.27 L341.00 312.78 L342.00 311.92 L343.00 312.45 L344.00 312.76 L345.00 311.98 L346.00 312.24 L347.00 312.67 L348.00 312.37 L349.00 312.17 L350.00 312.83 L351.00 312.08 L352.00 312.39 L353.00 312.60 L354.00 312.02 L355.00 312.60 L356.00 312.81 L357.00 311.81 L358.00 312.30 L359.00 312.78 L360.00 312.09 L361.00 312.44 L362.00 312.85 L363.00 312.19 L364.00 312.11 L365.00 313.02 L366.00 312.05 L367.00 312.12 L368.00 313.11 L369.00 311.90 L370.00 312.70 L371.00 312.66 L372.00 312.07 L373.00 312.11 L374.00 312.71 L375.00 311.87 L376.00 312.49 L377.00 312.63 L378.00 312.10 L379.00 312.49 L380.00 312.95 L381.00 310.49 L382.00 308.65 L383.00 307.93 L384.00 305.79 L385.00 305.10 L386.00 304.15 L387.00 302.60 L388.00 302.14 L389.00 301.80 L390.00 300.00 L391.00 299.83 L392.00 300.29 L393.00 298.82 L394.00 298.75 L395.00 299.02 L396.00 297.77 L397.00 297.34 L398.00 297.65 L399.00 296.68 L400.00 296.72 L401.00 297.04 L402.00 296.18 L403.00 296.34 L404.00 296.80 L405.00 295.68 L406.00 295.82 L407.00 296.48 L408.00 295.40 L409.00 295.70 L410.00 296.01 L411.00 295.36 L412.00 295.69 L413.00 296.01 L414.00 294.61 L415.00 295.27 L416.00 295.90 L417.00 294.88 L418.00 295.53 L419.00 295.49 L420.00 295.07 L421.00 295.13 L422.00 295.69 L423.00 294.81 L424.00 294.97 L425.00 295.79 L426.00 294.49 L427.00 295.06 L428.00 295.83 L429.00 294.75 L430.00 294.99 L431.00 295.25 L432.00 294.58 L433.00 295.41 L434.00 295.86 L435.00 294.51 L436.00 294.96 L437.00 295.47 L438.00 294.49 L439.00 294.62 L440.00 295.38 L441.00 294.50 L442.00 295.09 L443.00 295.23 L444.00 294.80 L445.00 294.79 L446.00 295.55 L447.00 295.66 L448.00 294.28 L449.00 292.87 L450.00 290.09 L451.00 288.85 L452.00 287.93 L453.00 286.16 L454.00 285.64 L455.00 284.92 L456.00 283.39 L457.00 283.07 L458.00 282.74 L459.00 281.41 L460.00 281.29 L461.00 281.34 L462.00 280.13 L463.00 280.13 L464.00 280.43 L465.00 278.88 L466.00 279.46 L467.00 279.31 L468.00 278.42 L469.00 278.80 L470.00 278.86 L471.00 278.10 L472.00 278.09 L473.00 278.57 L474.00 277.55 L475.00 277.89 L476.00 278.45 L477.00 277.67 L478.00 277.59 L479.00 277.98 L480.00 277.32 L481.00 277.12 L482.00 278.18 L483.00 277.01 L484.00 277.73 L485.00 277.89 L486.00 277.19 L487.00 277.59 L488.00 277.72 L489.00 276.99 L490.00 277.68 L491.00 277.34 L492.00 276.94 L493.00 276.81 L494.00 277.84 L495.00 276.80 L496.00 277.01 L497.00 277.62 L498.00 276.80 L499.00 277.42 L500.00 277.74 L501.00 276.68 L502.00 277.18 L503.00 277.68 L504.00 277.12 L505.00 276.93 L506.00 277.71 L507.00 276.85 L508.00 276.91 L509.00 277.73 L510.00 277.11 L511.00 276.86 L512.00 277.59 L513.00 276.81 L514.00 277.36 L515.00 277.63 L516.00 276.80 L517.00 277.12 L518.00 278.00 L519.00 276.51 L520.00 277.39 L521.00 277.68 L522.00 276.73 L523.00 277.17 L524.00 277.73" stroke="#ff8c00"/><path d="M205.00 303.34 L206.00 303.12 L207.00 304.05 L208.00 305.08 L209.00 304.97 L210.00 305.56 L211.00 306.11 L212.00 305.69 L213.00 305.98 L214.00 306.61 L215.00 305.86 L216.00 306.28 L217.00 306.87 L218.00 306.48 L219.00 306.80 L220.00 307.17 L221.00 306.56 L222.00 306.39 L223.00 307.43 L224.00 306.49 L225.00 307.17 L226.00 307.34 L227.00 306.62 L228.00 306.99 L229.00 307.44 L230.00 306.71 L231.00 306.95 L232.00 307.64 L233.00 306.35 L234.00 306.96 L235.00 307.59 L236.00 306.64 L237.00 306.81 L238.00 307.37 L239.00 306.90 L240.00 306.97 L241.00 307.03 L242.00 306.69 L243.00 306.70 L244.00 307.81 L245.00 306.88 L246.00 306.91 L247.00 307.36 L248.00 306.79 L249.00 306.76 L250.00 307.20 L251.00 306.37 L252.00 306.98 L253.00 307.32 L254.00 306.66 L255.00 306.86 L256.00 307.33 L257.00 306.53 L258.00 307.02 L259.00 307.37 L260.00 306.42 L261.00 306.89 L262.00 307.49 L263.00 306.99 L264.00 306.59 L265.00 307.34 L266.00 306.60 L267.00 306.90 L268.00 307.26 L269.00 306.72 L270.00 306.55 L271.00 307.45 L272.00 306.87 L273.00 306.57 L274.00 307.56 L275.00 306.76 L276.00 306.68 L277.00 307.12 L278.00 306.82 L279.00 306.83 L280.00 307.31 L281.00 306.67 L282.00 307.13 L283.00 307.51 L284.00 306.70 L285.00 306.94 L286.00 307.28 L287.00 306.35 L288.00 306.81 L289.00 307.64 L290.00 306.81 L291.00 307.08 L292.00 307.46 L293.00 306.60 L294.00 306.95 L295.00 307.24 L296.00 306.33 L297.00 306.76 L298.00 307.47 L299.00 306.88 L300.00 306.69 L301.00 307.18 L302.00 306.42 L303.00 306.98 L304.00 307.42 L305.00 306.60 L306.00 307.01 L307.00 307.16 L308.00 306.70 L309.00 307.08 L310.00 307.77 L311.00 306.60 L312.00 306.92 L313.00 307.06 L314.00 306.72 L315.00 307.14 L316.00 307.25 L317.00 306.88 L318.00 306.70 L319.00 307.25 L320.00 306.74 L321.00 306.97 L322.00 307.73 L323.00 306.77 L324.00 306.72 L325.00 307.70 L326.00 306.86 L327.00 307.01 L328.00 307.60 L329.00 306.88 L330.00 307.08 L331.00 307.28 L332.00 306.69 L333.00 306.70 L334.00 307.44 L335.00 306.86 L336.00 306.58 L337.00 307.51 L338.00 306.76 L339.00 306.83 L340.00 307.18 L341.00 306.97 L342.00 306.79 L343.00 307.21 L344.00 306.84 L345.00 306.60 L346.00 307.46 L347.00 306.94 L348.00 307.04 L349.00 307.38 L350.00 306.81 L351.00 307.16 L352.00 307.47 L353.00 306.88 L354.00 306.66 L355.00 307.43 L356.00 306.53 L357.00 306.80 L358.00 307.28 L359.00 306.77 L360.00 307.03 L361.00 307.69 L362.00 306.67 L363.00 306.98 L364.00 307.49 L365.00 306.72 L366.00 306.83 L367.00 307.19 L368.00 306.59 L369.00 306.73 L370.00 307.59 L371.00 306.82 L372.00 306.91 L373.00 307.67 L374.00 306.48 L375.00 307.09 L376.00 307.63 L377.00 306.86 L378.00 307.04 L379.00 307.49 L380.00 306.89 L381.00 304.98 L382.00 304.08 L383.00 301.75 L384.00 300.69 L385.00 300.03 L386.00 298.85 L387.00 297.66 L388.00 297.54 L389.00 296.07 L390.00 295.79 L391.00 295.46 L392.00 294.26 L393.00 294.27 L394.00 294.24 L395.00 293.30 L396.00 293.16 L397.00 293.57 L398.00 292.43 L399.00 292.78 L400.00 293.18 L401.00 291.63 L402.00 291.59 L403.00 292.24 L404.00 291.22 L405.00 291.60 L406.00 291.69 L407.00 291.30 L408.00 291.31 L409.00 291.64 L410.00 290.86 L411.00 290.67 L412.00 291.55 L413.00 290.80 L414.00 290.91 L415.00 291.60 L416.00 290.87 L417.00 290.79 L418.00 291.71 L419.00 290.35 L420.00 290.82 L421.00 291.50 L422.00 290.70 L423.00 290.62 L424.00 291.21 L425.00 290.50 L426.00 291.07 L427.00 291.38 L428.00 290.65 L429.00 290.51 L430.00 291.35 L431.00 290.87 L432.00 290.82 L433.00 291.08 L434.00 290.57 L435.00 290.86 L436.00 291.34 L437.00 290.80 L438.00 290.87 L439.00 291.01 L440.00 290.27 L441.00 291.14 L442.00 291.28 L443.00 290.35 L444.00 290.69 L445.00 291.44 L446.00 290.59 L447.00 291.60 L448.00 290.37 L449.00 287.77 L450.00 286.29 L451.00 285.74 L452.00 283.28 L453.00 282.50 L454.00 282.40 L455.00 280.57 L456.00 279.83 L457.00 279.51 L458.00 278.44 L459.00 278.17 L460.00 278.12 L461.00 276.52 L462.00 276.52 L463.00 277.02 L464.00 275.85 L465.00 276.31 L466.00 275.67 L467.00 275.35 L468.00 275.12 L469.00 275.47 L470.00 274.91 L471.00 274.95 L472.00 274.93 L473.00 274.21 L474.00 274.12 L475.00 274.78 L476.00 274.06 L477.00 274.16 L478.00 274.75 L479.00 273.77 L480.00 274.17 L481.00 274.61 L482.00 273.63 L483.00 273.74 L484.00 274.54 L485.00 273.50 L486.00 273.78 L487.00 274.31 L488.00 273.32 L489.00 273.45 L490.00 274.17 L491.00 273.69 L492.00 273.92 L493.00 274.14 L494.00 273.34 L495.00 273.51 L496.00 274.16 L497.00 273.33 L498.00 273.85 L499.00 274.11 L500.00 273.08 L501.00 273.51 L502.00 274.11 L503.00 273.63 L504.00 273.74 L505.00 274.19 L506.00 273.58 L507.00 273.55 L508.00 274.23 L509.00 273.42 L510.00 273.59 L511.00 274.25 L512.00 273.43 L513.00 273.56 L514.00 274.18 L515.00 273.40 L516.00 273.53 L517.00 274.03 L518.00 273.65 L519.00 273.76 L520.00 274.24 L521.00 273.68 L522.00 273.63 L523.00 274.27 L524.00 273.23" stroke="#0000ff"/><path d="M205.00 308.33 L206.00 307.38 L207.00 308.56 L208.00 308.35 L209.00 307.81 L210.00 308.15 L211.00 308.52 L212.00 307.76 L213.00 308.34 L214.00 308.31 L215.00 308.06 L216.00 308.77 L217.00 308.97 L218.00 307.84 L219.00 308.44 L220.00 308.67 L221.00 308.14 L222.00 308.52 L223.00 308.64 L224.00 307.98 L225.00 308.50 L226.00 308.82 L227.00 308.07 L228.00 308.64 L229.00 308.62 L230.00 307.98 L231.00 308.56 L232.00 308.40 L233.00 307.94 L234.00 308.81 L235.00 308.82 L236.00 307.56 L237.00 308.78 L238.00 308.40 L239.00 307.95 L240.00 308.44 L241.00 308.59 L242.00 307.99 L243.00 308.27 L244.00 308.96 L245.00 307.90 L246.00 308.68 L247.00 308.47 L248.00 308.16 L249.00 308.28 L250.00 308.49 L251.00 308.22 L252.00 308.89 L253.00 308.62 L254.00 307.91 L255.00 308.40 L256.00 308.83 L257.00 308.02 L258.00 309.00 L259.00 308.77 L260.00 308.08 L261.00 308.84 L262.00 308.50 L263.00 308.10 L264.00 308.54 L265.00 308.34 L266.00 307.79 L267.00 308.95 L268.00 308.61 L269.00 307.77 L270.00 308.48 L271.00 308.90 L272.00 307.97 L273.00 308.52 L274.00 308.62 L275.00 307.94 L276.00 308.31 L277.00 308.26 L278.00 307.80 L279.00 308.71 L280.00 308.73 L281.00 308.03 L282.00 308.64 L283.00 308.56 L284.00 308.07 L285.00 308.42 L286.00 308.78 L287.00 308.09 L288.00 308.83 L289.00 308.71 L290.00 307.98 L291.00 308.47 L292.00 308.95 L293.00 308.23 L294.00 308.54 L295.00 308.59 L296.00 307.76 L297.00 308.46 L298.00 308.51 L299.00 308.11 L300.00 308.65 L301.00 308.48 L302.00 307.87 L303.00 308.75 L304.00 308.65 L305.00 308.08 L306.00 308.55 L307.00 308.80 L308.00 308.00 L309.00 308.53 L310.00 308.63 L311.00 308.09 L312.00 308.45 L313.00 308.73 L314.00 307.91 L315.00 308.36 L316.00 308.43 L317.00 308.05 L318.00 308.57 L319.00 308.90 L320.00 308.06 L321.00 308.20 L322.00 308.68 L323.00 307.98 L324.00 308.67 L325.00 308.62 L326.00 307.96 L327.00 308.69 L328.00 308.80 L329.00 307.80 L330.00 308.64 L331.00 308.41 L332.00 308.02 L333.00 308.76 L334.00 308.60 L335.00 307.88 L336.00 308.42 L337.00 308.52 L338.00 307.74 L339.00 308.48 L340.00 308.76 L341.00 308.23 L342.00 308.35 L343.00 308.85 L344.00 307.90 L345.00 308.72 L346.00 308.73 L347.00 308.10 L348.00 308.91 L349.00 308.85 L350.00 307.99 L351.00 308.58 L352.00 308.69 L353.00 307.77 L354.00 308.47 L355.00 308.43 L356.00 307.92 L357.00 308.64 L358.00 308.84 L359.00 308.21 L360.00 308.43 L361.00 308.77 L362.00 307.68 L363.00 308.36 L364.00 308.65 L365.00 307.62 L366.00 308.75 L367.00 308.49 L368.00 308.19 L369.00 308.78 L370.00 308.72 L371.00 307.80 L372.00 308.75 L373.00 308.65 L374.00 308.05 L375.00 308.47 L376.00 308.34 L377.00 307.71 L378.00 308.71 L379.00 308.12 L380.00 307.35 L381.00 306.12 L382.00 304.65 L383.00 301.91 L384.00 301.38 L385.00 300.10 L386.00 298.16 L387.00 297.62 L388.00 297.00 L389.00 295.78 L390.00 295.46 L391.00 294.48 L392.00 293.81 L393.00 293.90 L394.00 293.51 L395.00 292.64 L396.00 293.35 L397.00 292.54 L398.00 291.59 L399.00 292.29 L400.00 291.86 L401.00 291.05 L402.00 291.44 L403.00 291.50 L404.00 290.83 L405.00 290.93 L406.00 291.61 L407.00 290.43 L408.00 290.84 L409.00 290.94 L410.00 290.23 L411.00 290.91 L412.00 290.83 L413.00 289.77 L414.00 290.86 L415.00 290.68 L416.00 289.81 L417.00 290.37 L418.00 290.78 L419.00 289.72 L420.00 290.63 L421.00 290.38 L422.00 289.73 L423.00 290.66 L424.00 290.45 L425.00 289.87 L426.00 290.48 L427.00 290.67 L428.00 289.90 L429.00 290.31 L430.00 290.69 L431.00 289.65 L432.00 290.21 L433.00 290.45 L434.00 289.86 L435.00 290.42 L436.00 290.91 L437.00 289.94 L438.00 290.36 L439.00 290.20 L440.00 289.77 L441.00 290.71 L442.00 290.51 L443.00 290.12 L444.00 290.41 L445.00 290.49 L446.00 290.04 L447.00 291.44 L448.00 289.54 L449.00 286.42 L450.00 285.52 L451.00 284.20 L452.00 282.05 L453.00 281.40 L454.00 280.59 L455.00 278.66 L456.00 278.59 L457.00 278.04 L458.00 276.71 L459.00 276.73 L460.00 276.37 L461.00 275.28 L462.00 275.43 L463.00 274.77 L464.00 274.39 L465.00 274.18 L466.00 274.17 L467.00 272.97 L468.00 273.92 L469.00 273.82 L470.00 273.31 L471.00 273.56 L472.00 273.08 L473.00 272.50 L474.00 273.22 L475.00 273.21 L476.00 272.12 L477.00 272.80 L478.00 272.94 L479.00 272.24 L480.00 272.19 L481.00 272.86 L482.00 271.85 L483.00 272.84 L484.00 272.83 L485.00 271.87 L486.00 272.51 L487.00 272.53 L488.00 271.91 L489.00 272.79 L490.00 272.81 L491.00 271.84 L492.00 272.53 L493.00 272.41 L494.00 271.65 L495.00 272.54 L496.00 272.49 L497.00 271.56 L498.00 272.03 L499.00 272.50 L500.00 271.90 L501.00 272.49 L502.00 272.36 L503.00 271.77 L504.00 272.15 L505.00 272.45 L506.00 271.50 L507.00 272.56 L508.00 272.57 L509.00 271.80 L510.00 272.38 L511.00 272.38 L512.00 272.05 L513.00 272.45 L514.00 272.31 L515.00 271.96 L516.00 272.55 L517.00 272.63 L518.00 271.68 L519.00 272.30 L520.00 272.33 L521.00 271.81 L522.00 272.42 L523.00 272.56 L524.00 271.67" stroke="#22dd22"/><path d="M205.00 305.69 L206.00 306.60 L207.00 307.71 L208.00 307.96 L209.00 308.48 L210.00 309.06 L211.00 309.09 L212.00 309.00 L213.00 309.76 L214.00 309.54 L215.00 309.51 L216.00 310.34 L217.00 309.31 L218.00 309.80 L219.00 310.30 L220.00 309.90 L221.00 309.85 L222.00 310.48 L223.00 310.28 L224.00 310.08 L225.00 310.51 L226.00 310.08 L227.00 310.17 L228.00 310.94 L229.00 309.98 L230.00 309.83 L231.00 310.56 L232.00 309.98 L233.00 310.13 L234.00 310.72 L235.00 309.92 L236.00 309.99 L237.00 310.39 L238.00 310.21 L239.00 310.04 L240.00 310.64 L241.00 310.04 L242.00 310.03 L243.00 311.10 L244.00 310.04 L245.00 309.83 L246.00 310.67 L247.00 310.02 L248.00 309.78 L249.00 310.85 L250.00 310.26 L251.00 310.06 L252.00 310.65 L253.00 310.11 L254.00 309.67 L255.00 311.06 L256.00 310.17 L257.00 310.14 L258.00 310.66 L259.00 309.74 L260.00 310.28 L261.00 310.65 L262.00 309.91 L263.00 310.30 L264.00 310.65 L265.00 310.20 L266.00 310.07 L267.00 310.71 L268.00 310.11 L269.00 310.15 L270.00 310.61 L271.00 310.08 L272.00 310.18 L273.00 310.90 L274.00 310.24 L275.00 310.24 L276.00 310.93 L277.00 310.03 L278.00 310.31 L279.00 310.74 L280.00 309.98 L281.00 309.95 L282.00 310.94 L283.00 309.99 L284.00 309.83 L285.00 311.09 L286.00 309.87 L287.00 310.15 L288.00 310.66 L289.00 309.96 L290.00 310.12 L291.00 310.59 L292.00 310.14 L293.00 309.94 L294.00 310.91 L295.00 310.06 L296.00 309.93 L297.00 310.89 L298.00 310.26 L299.00 310.26 L300.00 310.86 L301.00 309.98 L302.00 309.86 L303.00 310.93 L304.00 310.20 L305.00 310.23 L306.00 310.52 L307.00 310.11 L308.00 310.02 L309.00 310.65 L310.00 310.07 L311.00 310.11 L312.00 310.38 L313.00 310.79 L314.00 310.09 L315.00 310.53 L316.00 310.20 L317.00 309.86 L318.00 310.64 L319.00 309.98 L320.00 309.86 L321.00 310.98 L322.00 310.08 L323.00 310.25 L324.00 310.54 L325.00 310.09 L326.00 310.07 L327.00 310.64 L328.00 310.22 L329.00 310.22 L330.00 310.28 L331.00 310.10 L332.00 310.22 L333.00 310.61 L334.00 309.89 L335.00 309.65 L336.00 310.81 L337.00 310.34 L338.00 309.84 L339.00 310.69 L340.00 310.20 L341.00 310.11 L342.00 310.87 L343.00 310.49 L344.00 309.87 L345.00 310.89 L346.00 309.86 L347.00 310.12 L348.00 310.90 L349.00 310.04 L350.00 309.80 L351.00 310.58 L352.00 310.28 L353.00 309.94 L354.00 310.90 L355.00 309.89 L356.00 310.12 L357.00 310.80 L358.00 310.33 L359.00 309.83 L360.00 310.77 L361.00 310.03 L362.00 309.86 L363.00 310.64 L364.00 310.19 L365.00 310.37 L366.00 310.73 L367.00 310.17 L368.00 310.03 L369.00 311.06 L370.00 310.12 L371.00 310.03 L372.00 310.52 L373.00 309.94 L374.00 310.22 L375.00 310.51 L376.00 310.40 L377.00 310.10 L378.00 310.77 L379.00 310.10 L380.00 309.94 L381.00 309.05 L382.00 306.58 L383.00 305.11 L384.00 304.34 L385.00 302.43 L386.00 301.45 L387.00 301.21 L388.00 300.20 L389.00 299.12 L390.00 299.16 L391.00 297.95 L392.00 297.35 L393.00 297.39 L394.00 296.60 L395.00 296.18 L396.00 296.59 L397.00 295.39 L398.00 295.21 L399.00 295.55 L400.00 294.98 L401.00 294.08 L402.00 295.16 L403.00 294.20 L404.00 293.80 L405.00 294.57 L406.00 293.77 L407.00 293.62 L408.00 294.37 L409.00 293.53 L410.00 293.27 L411.00 294.30 L412.00 293.11 L413.00 292.89 L414.00 294.08 L415.00 293.05 L416.00 293.27 L417.00 293.65 L418.00 292.96 L419.00 292.97 L420.00 293.56 L421.00 292.76 L422.00 292.95 L423.00 293.59 L424.00 292.82 L425.00 292.98 L426.00 293.65 L427.00 292.62 L428.00 293.02 L429.00 293.56 L430.00 293.04 L431.00 292.93 L432.00 293.45 L433.00 292.93 L434.00 293.07 L435.00 293.35 L436.00 292.94 L437.00 292.73 L438.00 293.35 L439.00 292.65 L440.00 292.86 L441.00 294.06 L442.00 292.66 L443.00 292.95 L444.00 293.48 L445.00 292.76 L446.00 292.75 L447.00 294.30 L448.00 291.78 L449.00 290.00 L450.00 289.23 L451.00 287.28 L452.00 285.88 L453.00 285.45 L454.00 283.98 L455.00 283.00 L456.00 283.22 L457.00 281.39 L458.00 281.09 L459.00 280.93 L460.00 280.36 L461.00 279.41 L462.00 279.75 L463.00 278.87 L464.00 278.56 L465.00 278.96 L466.00 277.88 L467.00 277.60 L468.00 277.88 L469.00 277.21 L470.00 276.97 L471.00 277.56 L472.00 277.03 L473.00 276.76 L474.00 277.43 L475.00 276.67 L476.00 276.64 L477.00 277.40 L478.00 276.70 L479.00 276.26 L480.00 276.98 L481.00 276.47 L482.00 276.42 L483.00 276.80 L484.00 276.52 L485.00 276.52 L486.00 276.86 L487.00 276.00 L488.00 276.21 L489.00 276.82 L490.00 276.38 L491.00 276.07 L492.00 276.80 L493.00 276.05 L494.00 275.99 L495.00 276.67 L496.00 276.39 L497.00 276.13 L498.00 277.14 L499.00 276.29 L500.00 275.98 L501.00 276.68 L502.00 276.17 L503.00 276.19 L504.00 277.05 L505.00 276.12 L506.00 275.99 L507.00 276.75 L508.00 276.36 L509.00 275.85 L510.00 276.78 L511.00 275.83 L512.00 276.02 L513.00 276.76 L514.00 276.54 L515.00 276.25 L516.00 276.86 L517.00 275.82 L518.00 275.96 L519.00 276.71 L520.00 275.88 L521.00 276.10 L522.00 276.82 L523.00 276.11 L524.00 276.32" stroke="#ff00ff"/><path d="M205.00 302.82 L206.00 304.11 L207.00 305.09 L208.00 304.71 L209.00 305.47 L210.00 305.72 L211.00 305.31 L212.00 306.06 L213.00 306.59 L214.00 305.82 L215.00 306.64 L216.00 307.16 L217.00 306.19 L218.00 306.90 L219.00 307.00 L220.00 306.42 L221.00 306.78 L222.00 307.45 L223.00 306.63 L224.00 307.13 L225.00 307.24 L226.00 306.77 L227.00 307.20 L228.00 307.46 L229.00 306.67 L230.00 307.07 L231.00 307.64 L232.00 307.09 L233.00 307.39 L234.00 307.56 L235.00 306.65 L236.00 307.28 L237.00 307.75 L238.00 306.79 L239.00 307.32 L240.00 307.55 L241.00 307.10 L242.00 307.34 L243.00 307.76 L244.00 306.76 L245.00 307.08 L246.00 307.46 L247.00 306.74 L248.00 307.00 L249.00 307.73 L250.00 306.81 L251.00 307.25 L252.00 307.49 L253.00 306.66 L254.00 307.20 L255.00 307.58 L256.00 306.77 L257.00 307.07 L258.00 307.82 L259.00 306.85 L260.00 307.49 L261.00 307.77 L262.00 306.89 L263.00 307.45 L264.00 307.45 L265.00 307.05 L266.00 307.21 L267.00 307.74 L268.00 306.64 L269.00 307.52 L270.00 307.40 L271.00 306.47 L272.00 306.98 L273.00 307.81 L274.00 306.79 L275.00 307.28 L276.00 308.07 L277.00 306.77 L278.00 307.36 L279.00 307.66 L280.00 306.88 L281.00 307.34 L282.00 307.61 L283.00 306.99 L284.00 307.41 L285.00 307.64 L286.00 307.14 L287.00 307.29 L288.00 307.49 L289.00 306.78 L290.00 307.27 L291.00 307.47 L292.00 306.91 L293.00 307.25 L294.00 307.30 L295.00 306.85 L296.00 307.32 L297.00 307.56 L298.00 306.69 L299.00 307.29 L300.00 307.79 L301.00 306.81 L302.00 307.17 L303.00 307.77 L304.00 306.77 L305.00 307.50 L306.00 307.31 L307.00 306.70 L308.00 307.34 L309.00 307.52 L310.00 306.89 L311.00 307.17 L312.00 307.58 L313.00 306.80 L314.00 307.39 L315.00 307.67 L316.00 306.84 L317.00 307.17 L318.00 307.38 L319.00 306.79 L320.00 307.06 L321.00 308.03 L322.00 306.89 L323.00 307.33 L324.00 307.41 L325.00 307.07 L326.00 307.28 L327.00 307.65 L328.00 306.80 L329.00 307.14 L330.00 307.52 L331.00 307.36 L332.00 307.51 L333.00 307.20 L334.00 307.05 L335.00 307.36 L336.00 307.38 L337.00 306.60 L338.00 307.14 L339.00 307.85 L340.00 306.68 L341.00 306.85 L342.00 307.81 L343.00 306.87 L344.00 307.51 L345.00 307.62 L346.00 306.93 L347.00 307.43 L348.00 307.64 L349.00 306.73 L350.00 307.28 L351.00 307.57 L352.00 306.58 L353.00 307.56 L354.00 307.46 L355.00 306.80 L356.00 307.14 L357.00 307.69 L358.00 306.79 L359.00 307.40 L360.00 307.34 L361.00 306.92 L362.00 307.35 L363.00 307.93 L364.00 306.90 L365.00 307.09 L366.00 307.56 L367.00 306.72 L368.00 307.20 L369.00 307.24 L370.00 306.52 L371.00 307.13 L372.00 307.61 L373.00 306.55 L374.00 307.36 L375.00 307.26 L376.00 307.06 L377.00 306.78 L378.00 307.35 L379.00 306.49 L380.00 307.21 L381.00 305.53 L382.00 303.61 L383.00 302.52 L384.00 301.53 L385.00 299.48 L386.00 298.97 L387.00 298.77 L388.00 296.80 L389.00 296.72 L390.00 296.23 L391.00 294.79 L392.00 295.12 L393.00 294.93 L394.00 293.80 L395.00 294.23 L396.00 293.77 L397.00 292.41 L398.00 293.20 L399.00 292.98 L400.00 292.03 L401.00 292.27 L402.00 292.27 L403.00 291.64 L404.00 291.99 L405.00 292.01 L406.00 291.37 L407.00 291.60 L408.00 291.77 L409.00 291.26 L410.00 291.53 L411.00 291.96 L412.00 291.06 L413.00 291.27 L414.00 291.57 L415.00 290.73 L416.00 291.34 L417.00 291.52 L418.00 290.69 L419.00 290.99 L420.00 291.84 L421.00 290.61 L422.00 291.22 L423.00 291.32 L424.00 290.61 L425.00 291.03 L426.00 291.73 L427.00 290.63 L428.00 290.96 L429.00 291.34 L430.00 290.31 L431.00 291.08 L432.00 291.79 L433.00 290.47 L434.00 291.00 L435.00 291.30 L436.00 290.42 L437.00 291.26 L438.00 291.17 L439.00 290.76 L440.00 290.76 L441.00 291.24 L442.00 290.47 L443.00 291.30 L444.00 291.57 L445.00 290.36 L446.00 291.13 L447.00 292.39 L448.00 289.96 L449.00 288.50 L450.00 286.90 L451.00 284.54 L452.00 284.11 L453.00 283.31 L454.00 281.60 L455.00 280.87 L456.00 280.40 L457.00 279.06 L458.00 279.37 L459.00 278.77 L460.00 277.15 L461.00 277.22 L462.00 277.13 L463.00 276.52 L464.00 276.36 L465.00 276.57 L466.00 275.65 L467.00 275.90 L468.00 275.89 L469.00 275.09 L470.00 275.33 L471.00 275.35 L472.00 274.15 L473.00 274.92 L474.00 275.24 L475.00 274.36 L476.00 274.67 L477.00 274.55 L478.00 274.42 L479.00 274.09 L480.00 274.57 L481.00 274.00 L482.00 274.19 L483.00 274.84 L484.00 274.08 L485.00 274.45 L486.00 274.30 L487.00 273.80 L488.00 274.23 L489.00 274.46 L490.00 274.10 L491.00 274.08 L492.00 274.33 L493.00 273.69 L494.00 274.19 L495.00 274.45 L496.00 273.69 L497.00 274.23 L498.00 274.59 L499.00 273.39 L500.00 273.90 L501.00 274.50 L502.00 273.55 L503.00 274.12 L504.00 274.38 L505.00 273.68 L506.00 273.98 L507.00 274.63 L508.00 273.51 L509.00 273.98 L510.00 274.47 L511.00 273.66 L512.00 273.86 L513.00 274.34 L514.00 273.66 L515.00 273.83 L516.00 274.72 L517.00 273.40 L518.00 273.82 L519.00 273.98 L520.00 273.70 L521.00 273.95 L522.00 273.91 L523.00 273.74 L524.00 274.07" stroke="#7f00ff" stroke-dasharray="1.6 1.4"/></g>
<line x1="231.4" y1="114.4" x2="231.4" y2="347" stroke="#000" stroke-width="2.1" stroke-dasharray="14.6 7.6"/><line x1="60" y1="227.8" x2="225" y2="227.8" stroke="#000" stroke-width="2.1"/><polygon points="54.3,227.8 66,223.8 66,231.8" fill="#000"/><polygon points="231,227.8 219.3,223.8 219.3,231.8" fill="#000"/>
<g class="big">
<text x="259.8" y="49.6" fill="#c40000">Resistence Sensors</text>
<text x="259.8" y="102.6" fill="#000">Corners: SS,TT,FF</text>
<text x="259.9" y="130.5" fill="#000">Temperature: <tspan class="mn" x="385.0" dy="0.6">−</tspan><tspan x="400.2" dy="-0.6">40</tspan><tspan class="cjk" x="423.4">℃</tspan><tspan x="444.2">,</tspan><tspan x="449.2">25</tspan><tspan class="cjk" x="472.1">℃</tspan><tspan x="494.2">,</tspan><tspan x="499.2">85</tspan><tspan class="cjk" x="522.1">℃</tspan></text>
<text x="75.8" y="262.6" fill="#000" style="font-size:22.05px">The process</text>
<text x="75.8" y="288.6" fill="#000" style="font-size:22.05px">of baseline</text>
<text x="75.8" y="315.5" fill="#000" style="font-size:22.05px">compensation.</text>
<text x="302.5" y="294.5" fill="#000">7</text>
<text x="382.1" y="276.6" fill="#000">7.15</text>
<text x="470.7" y="259.2" fill="#000">7.3</text>
<text class="om" transform="translate(318.1 292.6) scale(0.93 1)">Ω</text>
<text class="om" transform="translate(425.1 274.6) scale(0.93 1)">Ω</text>
<text class="om" transform="translate(502.9 257.2) scale(0.93 1)">Ω</text>
</g>
</svg>
</body></html>
